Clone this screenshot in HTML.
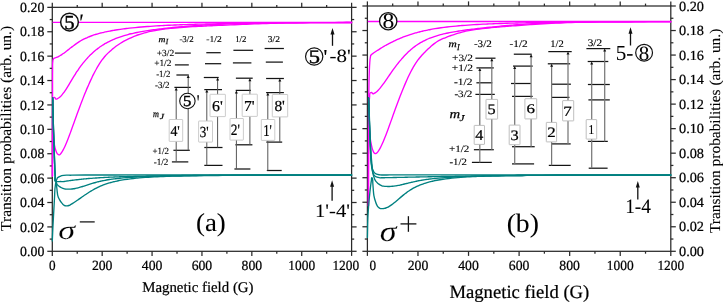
<!DOCTYPE html>
<html><head><meta charset="utf-8"><title>Transition probabilities</title>
<style>
html,body{margin:0;padding:0;background:#fff;}
body{width:723px;height:302px;overflow:hidden;}
svg{display:block;text-rendering:geometricPrecision;}
text{font-family:'Liberation Serif', 'Times New Roman', serif;fill:#000;stroke:#000;stroke-width:0.22px;}
text.s{stroke-width:0.12px;fill:#000;}
text.n{stroke:#fff;stroke-width:0.12px;fill:#000;}
text.n2{stroke-width:0;fill:#000;}
text.m{stroke-width:0.25px;fill:#000;}
text.lab{stroke-width:0.1px;}
text.lg{stroke-width:0.06px;}
text.b{stroke-width:0.45px;}
</style></head>
<body>
<svg width="723" height="302" viewBox="0 0 723 302">
<rect width="723" height="302" fill="#fff"/>
<rect x="52.30" y="7.35" width="299.30" height="243.95" fill="none" stroke="#2a2a2a" stroke-width="1.25"/>
<line x1="52.30" y1="251.30" x2="52.30" y2="255.90" stroke="#2a2a2a" stroke-width="1.25"/>
<line x1="52.30" y1="7.35" x2="52.30" y2="2.75" stroke="#2a2a2a" stroke-width="1.25"/>
<line x1="77.24" y1="251.30" x2="77.24" y2="253.70" stroke="#2a2a2a" stroke-width="1.25"/>
<line x1="77.24" y1="7.35" x2="77.24" y2="4.95" stroke="#2a2a2a" stroke-width="1.25"/>
<line x1="102.18" y1="251.30" x2="102.18" y2="255.90" stroke="#2a2a2a" stroke-width="1.25"/>
<line x1="102.18" y1="7.35" x2="102.18" y2="2.75" stroke="#2a2a2a" stroke-width="1.25"/>
<line x1="127.12" y1="251.30" x2="127.12" y2="253.70" stroke="#2a2a2a" stroke-width="1.25"/>
<line x1="127.12" y1="7.35" x2="127.12" y2="4.95" stroke="#2a2a2a" stroke-width="1.25"/>
<line x1="152.07" y1="251.30" x2="152.07" y2="255.90" stroke="#2a2a2a" stroke-width="1.25"/>
<line x1="152.07" y1="7.35" x2="152.07" y2="2.75" stroke="#2a2a2a" stroke-width="1.25"/>
<line x1="177.01" y1="251.30" x2="177.01" y2="253.70" stroke="#2a2a2a" stroke-width="1.25"/>
<line x1="177.01" y1="7.35" x2="177.01" y2="4.95" stroke="#2a2a2a" stroke-width="1.25"/>
<line x1="201.95" y1="251.30" x2="201.95" y2="255.90" stroke="#2a2a2a" stroke-width="1.25"/>
<line x1="201.95" y1="7.35" x2="201.95" y2="2.75" stroke="#2a2a2a" stroke-width="1.25"/>
<line x1="226.89" y1="251.30" x2="226.89" y2="253.70" stroke="#2a2a2a" stroke-width="1.25"/>
<line x1="226.89" y1="7.35" x2="226.89" y2="4.95" stroke="#2a2a2a" stroke-width="1.25"/>
<line x1="251.83" y1="251.30" x2="251.83" y2="255.90" stroke="#2a2a2a" stroke-width="1.25"/>
<line x1="251.83" y1="7.35" x2="251.83" y2="2.75" stroke="#2a2a2a" stroke-width="1.25"/>
<line x1="276.78" y1="251.30" x2="276.78" y2="253.70" stroke="#2a2a2a" stroke-width="1.25"/>
<line x1="276.78" y1="7.35" x2="276.78" y2="4.95" stroke="#2a2a2a" stroke-width="1.25"/>
<line x1="301.72" y1="251.30" x2="301.72" y2="255.90" stroke="#2a2a2a" stroke-width="1.25"/>
<line x1="301.72" y1="7.35" x2="301.72" y2="2.75" stroke="#2a2a2a" stroke-width="1.25"/>
<line x1="326.66" y1="251.30" x2="326.66" y2="253.70" stroke="#2a2a2a" stroke-width="1.25"/>
<line x1="326.66" y1="7.35" x2="326.66" y2="4.95" stroke="#2a2a2a" stroke-width="1.25"/>
<line x1="351.60" y1="251.30" x2="351.60" y2="255.90" stroke="#2a2a2a" stroke-width="1.25"/>
<line x1="351.60" y1="7.35" x2="351.60" y2="2.75" stroke="#2a2a2a" stroke-width="1.25"/>
<line x1="52.30" y1="251.30" x2="47.30" y2="251.30" stroke="#2a2a2a" stroke-width="1.25"/>
<line x1="351.60" y1="251.30" x2="356.60" y2="251.30" stroke="#2a2a2a" stroke-width="1.25"/>
<line x1="52.30" y1="239.10" x2="49.70" y2="239.10" stroke="#2a2a2a" stroke-width="1.25"/>
<line x1="351.60" y1="239.10" x2="354.20" y2="239.10" stroke="#2a2a2a" stroke-width="1.25"/>
<line x1="52.30" y1="226.91" x2="47.30" y2="226.91" stroke="#2a2a2a" stroke-width="1.25"/>
<line x1="351.60" y1="226.91" x2="356.60" y2="226.91" stroke="#2a2a2a" stroke-width="1.25"/>
<line x1="52.30" y1="214.71" x2="49.70" y2="214.71" stroke="#2a2a2a" stroke-width="1.25"/>
<line x1="351.60" y1="214.71" x2="354.20" y2="214.71" stroke="#2a2a2a" stroke-width="1.25"/>
<line x1="52.30" y1="202.51" x2="47.30" y2="202.51" stroke="#2a2a2a" stroke-width="1.25"/>
<line x1="351.60" y1="202.51" x2="356.60" y2="202.51" stroke="#2a2a2a" stroke-width="1.25"/>
<line x1="52.30" y1="190.31" x2="49.70" y2="190.31" stroke="#2a2a2a" stroke-width="1.25"/>
<line x1="351.60" y1="190.31" x2="354.20" y2="190.31" stroke="#2a2a2a" stroke-width="1.25"/>
<line x1="52.30" y1="178.12" x2="47.30" y2="178.12" stroke="#2a2a2a" stroke-width="1.25"/>
<line x1="351.60" y1="178.12" x2="356.60" y2="178.12" stroke="#2a2a2a" stroke-width="1.25"/>
<line x1="52.30" y1="165.92" x2="49.70" y2="165.92" stroke="#2a2a2a" stroke-width="1.25"/>
<line x1="351.60" y1="165.92" x2="354.20" y2="165.92" stroke="#2a2a2a" stroke-width="1.25"/>
<line x1="52.30" y1="153.72" x2="47.30" y2="153.72" stroke="#2a2a2a" stroke-width="1.25"/>
<line x1="351.60" y1="153.72" x2="356.60" y2="153.72" stroke="#2a2a2a" stroke-width="1.25"/>
<line x1="52.30" y1="141.52" x2="49.70" y2="141.52" stroke="#2a2a2a" stroke-width="1.25"/>
<line x1="351.60" y1="141.52" x2="354.20" y2="141.52" stroke="#2a2a2a" stroke-width="1.25"/>
<line x1="52.30" y1="129.33" x2="47.30" y2="129.33" stroke="#2a2a2a" stroke-width="1.25"/>
<line x1="351.60" y1="129.33" x2="356.60" y2="129.33" stroke="#2a2a2a" stroke-width="1.25"/>
<line x1="52.30" y1="117.13" x2="49.70" y2="117.13" stroke="#2a2a2a" stroke-width="1.25"/>
<line x1="351.60" y1="117.13" x2="354.20" y2="117.13" stroke="#2a2a2a" stroke-width="1.25"/>
<line x1="52.30" y1="104.93" x2="47.30" y2="104.93" stroke="#2a2a2a" stroke-width="1.25"/>
<line x1="351.60" y1="104.93" x2="356.60" y2="104.93" stroke="#2a2a2a" stroke-width="1.25"/>
<line x1="52.30" y1="92.73" x2="49.70" y2="92.73" stroke="#2a2a2a" stroke-width="1.25"/>
<line x1="351.60" y1="92.73" x2="354.20" y2="92.73" stroke="#2a2a2a" stroke-width="1.25"/>
<line x1="52.30" y1="80.53" x2="47.30" y2="80.53" stroke="#2a2a2a" stroke-width="1.25"/>
<line x1="351.60" y1="80.53" x2="356.60" y2="80.53" stroke="#2a2a2a" stroke-width="1.25"/>
<line x1="52.30" y1="68.34" x2="49.70" y2="68.34" stroke="#2a2a2a" stroke-width="1.25"/>
<line x1="351.60" y1="68.34" x2="354.20" y2="68.34" stroke="#2a2a2a" stroke-width="1.25"/>
<line x1="52.30" y1="56.14" x2="47.30" y2="56.14" stroke="#2a2a2a" stroke-width="1.25"/>
<line x1="351.60" y1="56.14" x2="356.60" y2="56.14" stroke="#2a2a2a" stroke-width="1.25"/>
<line x1="52.30" y1="43.94" x2="49.70" y2="43.94" stroke="#2a2a2a" stroke-width="1.25"/>
<line x1="351.60" y1="43.94" x2="354.20" y2="43.94" stroke="#2a2a2a" stroke-width="1.25"/>
<line x1="52.30" y1="31.75" x2="47.30" y2="31.75" stroke="#2a2a2a" stroke-width="1.25"/>
<line x1="351.60" y1="31.75" x2="356.60" y2="31.75" stroke="#2a2a2a" stroke-width="1.25"/>
<line x1="52.30" y1="19.55" x2="49.70" y2="19.55" stroke="#2a2a2a" stroke-width="1.25"/>
<line x1="351.60" y1="19.55" x2="354.20" y2="19.55" stroke="#2a2a2a" stroke-width="1.25"/>
<line x1="52.30" y1="7.35" x2="47.30" y2="7.35" stroke="#2a2a2a" stroke-width="1.25"/>
<line x1="351.60" y1="7.35" x2="356.60" y2="7.35" stroke="#2a2a2a" stroke-width="1.25"/>
<rect x="367.40" y="6.00" width="303.40" height="245.30" fill="none" stroke="#2a2a2a" stroke-width="1.25"/>
<line x1="367.40" y1="251.30" x2="367.40" y2="255.90" stroke="#2a2a2a" stroke-width="1.25"/>
<line x1="367.40" y1="6.00" x2="367.40" y2="1.40" stroke="#2a2a2a" stroke-width="1.25"/>
<line x1="392.68" y1="251.30" x2="392.68" y2="253.70" stroke="#2a2a2a" stroke-width="1.25"/>
<line x1="392.68" y1="6.00" x2="392.68" y2="3.60" stroke="#2a2a2a" stroke-width="1.25"/>
<line x1="417.97" y1="251.30" x2="417.97" y2="255.90" stroke="#2a2a2a" stroke-width="1.25"/>
<line x1="417.97" y1="6.00" x2="417.97" y2="1.40" stroke="#2a2a2a" stroke-width="1.25"/>
<line x1="443.25" y1="251.30" x2="443.25" y2="253.70" stroke="#2a2a2a" stroke-width="1.25"/>
<line x1="443.25" y1="6.00" x2="443.25" y2="3.60" stroke="#2a2a2a" stroke-width="1.25"/>
<line x1="468.53" y1="251.30" x2="468.53" y2="255.90" stroke="#2a2a2a" stroke-width="1.25"/>
<line x1="468.53" y1="6.00" x2="468.53" y2="1.40" stroke="#2a2a2a" stroke-width="1.25"/>
<line x1="493.82" y1="251.30" x2="493.82" y2="253.70" stroke="#2a2a2a" stroke-width="1.25"/>
<line x1="493.82" y1="6.00" x2="493.82" y2="3.60" stroke="#2a2a2a" stroke-width="1.25"/>
<line x1="519.10" y1="251.30" x2="519.10" y2="255.90" stroke="#2a2a2a" stroke-width="1.25"/>
<line x1="519.10" y1="6.00" x2="519.10" y2="1.40" stroke="#2a2a2a" stroke-width="1.25"/>
<line x1="544.38" y1="251.30" x2="544.38" y2="253.70" stroke="#2a2a2a" stroke-width="1.25"/>
<line x1="544.38" y1="6.00" x2="544.38" y2="3.60" stroke="#2a2a2a" stroke-width="1.25"/>
<line x1="569.67" y1="251.30" x2="569.67" y2="255.90" stroke="#2a2a2a" stroke-width="1.25"/>
<line x1="569.67" y1="6.00" x2="569.67" y2="1.40" stroke="#2a2a2a" stroke-width="1.25"/>
<line x1="594.95" y1="251.30" x2="594.95" y2="253.70" stroke="#2a2a2a" stroke-width="1.25"/>
<line x1="594.95" y1="6.00" x2="594.95" y2="3.60" stroke="#2a2a2a" stroke-width="1.25"/>
<line x1="620.23" y1="251.30" x2="620.23" y2="255.90" stroke="#2a2a2a" stroke-width="1.25"/>
<line x1="620.23" y1="6.00" x2="620.23" y2="1.40" stroke="#2a2a2a" stroke-width="1.25"/>
<line x1="645.52" y1="251.30" x2="645.52" y2="253.70" stroke="#2a2a2a" stroke-width="1.25"/>
<line x1="645.52" y1="6.00" x2="645.52" y2="3.60" stroke="#2a2a2a" stroke-width="1.25"/>
<line x1="670.80" y1="251.30" x2="670.80" y2="255.90" stroke="#2a2a2a" stroke-width="1.25"/>
<line x1="670.80" y1="6.00" x2="670.80" y2="1.40" stroke="#2a2a2a" stroke-width="1.25"/>
<line x1="367.40" y1="251.30" x2="362.40" y2="251.30" stroke="#2a2a2a" stroke-width="1.25"/>
<line x1="670.80" y1="251.30" x2="675.80" y2="251.30" stroke="#2a2a2a" stroke-width="1.25"/>
<line x1="367.40" y1="239.04" x2="364.80" y2="239.04" stroke="#2a2a2a" stroke-width="1.25"/>
<line x1="670.80" y1="239.04" x2="673.40" y2="239.04" stroke="#2a2a2a" stroke-width="1.25"/>
<line x1="367.40" y1="226.77" x2="362.40" y2="226.77" stroke="#2a2a2a" stroke-width="1.25"/>
<line x1="670.80" y1="226.77" x2="675.80" y2="226.77" stroke="#2a2a2a" stroke-width="1.25"/>
<line x1="367.40" y1="214.50" x2="364.80" y2="214.50" stroke="#2a2a2a" stroke-width="1.25"/>
<line x1="670.80" y1="214.50" x2="673.40" y2="214.50" stroke="#2a2a2a" stroke-width="1.25"/>
<line x1="367.40" y1="202.24" x2="362.40" y2="202.24" stroke="#2a2a2a" stroke-width="1.25"/>
<line x1="670.80" y1="202.24" x2="675.80" y2="202.24" stroke="#2a2a2a" stroke-width="1.25"/>
<line x1="367.40" y1="189.98" x2="364.80" y2="189.98" stroke="#2a2a2a" stroke-width="1.25"/>
<line x1="670.80" y1="189.98" x2="673.40" y2="189.98" stroke="#2a2a2a" stroke-width="1.25"/>
<line x1="367.40" y1="177.71" x2="362.40" y2="177.71" stroke="#2a2a2a" stroke-width="1.25"/>
<line x1="670.80" y1="177.71" x2="675.80" y2="177.71" stroke="#2a2a2a" stroke-width="1.25"/>
<line x1="367.40" y1="165.44" x2="364.80" y2="165.44" stroke="#2a2a2a" stroke-width="1.25"/>
<line x1="670.80" y1="165.44" x2="673.40" y2="165.44" stroke="#2a2a2a" stroke-width="1.25"/>
<line x1="367.40" y1="153.18" x2="362.40" y2="153.18" stroke="#2a2a2a" stroke-width="1.25"/>
<line x1="670.80" y1="153.18" x2="675.80" y2="153.18" stroke="#2a2a2a" stroke-width="1.25"/>
<line x1="367.40" y1="140.91" x2="364.80" y2="140.91" stroke="#2a2a2a" stroke-width="1.25"/>
<line x1="670.80" y1="140.91" x2="673.40" y2="140.91" stroke="#2a2a2a" stroke-width="1.25"/>
<line x1="367.40" y1="128.65" x2="362.40" y2="128.65" stroke="#2a2a2a" stroke-width="1.25"/>
<line x1="670.80" y1="128.65" x2="675.80" y2="128.65" stroke="#2a2a2a" stroke-width="1.25"/>
<line x1="367.40" y1="116.38" x2="364.80" y2="116.38" stroke="#2a2a2a" stroke-width="1.25"/>
<line x1="670.80" y1="116.38" x2="673.40" y2="116.38" stroke="#2a2a2a" stroke-width="1.25"/>
<line x1="367.40" y1="104.12" x2="362.40" y2="104.12" stroke="#2a2a2a" stroke-width="1.25"/>
<line x1="670.80" y1="104.12" x2="675.80" y2="104.12" stroke="#2a2a2a" stroke-width="1.25"/>
<line x1="367.40" y1="91.86" x2="364.80" y2="91.86" stroke="#2a2a2a" stroke-width="1.25"/>
<line x1="670.80" y1="91.86" x2="673.40" y2="91.86" stroke="#2a2a2a" stroke-width="1.25"/>
<line x1="367.40" y1="79.59" x2="362.40" y2="79.59" stroke="#2a2a2a" stroke-width="1.25"/>
<line x1="670.80" y1="79.59" x2="675.80" y2="79.59" stroke="#2a2a2a" stroke-width="1.25"/>
<line x1="367.40" y1="67.33" x2="364.80" y2="67.33" stroke="#2a2a2a" stroke-width="1.25"/>
<line x1="670.80" y1="67.33" x2="673.40" y2="67.33" stroke="#2a2a2a" stroke-width="1.25"/>
<line x1="367.40" y1="55.06" x2="362.40" y2="55.06" stroke="#2a2a2a" stroke-width="1.25"/>
<line x1="670.80" y1="55.06" x2="675.80" y2="55.06" stroke="#2a2a2a" stroke-width="1.25"/>
<line x1="367.40" y1="42.79" x2="364.80" y2="42.79" stroke="#2a2a2a" stroke-width="1.25"/>
<line x1="670.80" y1="42.79" x2="673.40" y2="42.79" stroke="#2a2a2a" stroke-width="1.25"/>
<line x1="367.40" y1="30.53" x2="362.40" y2="30.53" stroke="#2a2a2a" stroke-width="1.25"/>
<line x1="670.80" y1="30.53" x2="675.80" y2="30.53" stroke="#2a2a2a" stroke-width="1.25"/>
<line x1="367.40" y1="18.27" x2="364.80" y2="18.27" stroke="#2a2a2a" stroke-width="1.25"/>
<line x1="670.80" y1="18.27" x2="673.40" y2="18.27" stroke="#2a2a2a" stroke-width="1.25"/>
<line x1="367.40" y1="6.00" x2="362.40" y2="6.00" stroke="#2a2a2a" stroke-width="1.25"/>
<line x1="670.80" y1="6.00" x2="675.80" y2="6.00" stroke="#2a2a2a" stroke-width="1.25"/>
<text x="44.30" y="256.00" font-size="14.00" text-anchor="end" style="" textLength="24.20" lengthAdjust="spacingAndGlyphs">0.00</text>
<text x="44.30" y="231.60" font-size="14.00" text-anchor="end" style="" textLength="24.20" lengthAdjust="spacingAndGlyphs">0.02</text>
<text x="44.30" y="207.21" font-size="14.00" text-anchor="end" style="" textLength="24.20" lengthAdjust="spacingAndGlyphs">0.04</text>
<text x="44.30" y="182.81" font-size="14.00" text-anchor="end" style="" textLength="24.20" lengthAdjust="spacingAndGlyphs">0.06</text>
<text x="44.30" y="158.42" font-size="14.00" text-anchor="end" style="" textLength="24.20" lengthAdjust="spacingAndGlyphs">0.08</text>
<text x="44.30" y="134.03" font-size="14.00" text-anchor="end" style="" textLength="24.20" lengthAdjust="spacingAndGlyphs">0.10</text>
<text x="44.30" y="109.63" font-size="14.00" text-anchor="end" style="" textLength="24.20" lengthAdjust="spacingAndGlyphs">0.12</text>
<text x="44.30" y="85.23" font-size="14.00" text-anchor="end" style="" textLength="24.20" lengthAdjust="spacingAndGlyphs">0.14</text>
<text x="44.30" y="60.84" font-size="14.00" text-anchor="end" style="" textLength="24.20" lengthAdjust="spacingAndGlyphs">0.16</text>
<text x="44.30" y="36.45" font-size="14.00" text-anchor="end" style="" textLength="24.20" lengthAdjust="spacingAndGlyphs">0.18</text>
<text x="44.30" y="12.05" font-size="14.00" text-anchor="end" style="" textLength="24.20" lengthAdjust="spacingAndGlyphs">0.20</text>
<text x="679.00" y="256.00" font-size="14.00" text-anchor="start" style="" textLength="25.00" lengthAdjust="spacingAndGlyphs">0.00</text>
<text x="679.00" y="231.47" font-size="14.00" text-anchor="start" style="" textLength="25.00" lengthAdjust="spacingAndGlyphs">0.02</text>
<text x="679.00" y="206.94" font-size="14.00" text-anchor="start" style="" textLength="25.00" lengthAdjust="spacingAndGlyphs">0.04</text>
<text x="679.00" y="182.41" font-size="14.00" text-anchor="start" style="" textLength="25.00" lengthAdjust="spacingAndGlyphs">0.06</text>
<text x="679.00" y="157.88" font-size="14.00" text-anchor="start" style="" textLength="25.00" lengthAdjust="spacingAndGlyphs">0.08</text>
<text x="679.00" y="133.35" font-size="14.00" text-anchor="start" style="" textLength="25.00" lengthAdjust="spacingAndGlyphs">0.10</text>
<text x="679.00" y="108.82" font-size="14.00" text-anchor="start" style="" textLength="25.00" lengthAdjust="spacingAndGlyphs">0.12</text>
<text x="679.00" y="84.29" font-size="14.00" text-anchor="start" style="" textLength="25.00" lengthAdjust="spacingAndGlyphs">0.14</text>
<text x="679.00" y="59.76" font-size="14.00" text-anchor="start" style="" textLength="25.00" lengthAdjust="spacingAndGlyphs">0.16</text>
<text x="679.00" y="35.23" font-size="14.00" text-anchor="start" style="" textLength="25.00" lengthAdjust="spacingAndGlyphs">0.18</text>
<text x="679.00" y="10.70" font-size="14.00" text-anchor="start" style="" textLength="25.00" lengthAdjust="spacingAndGlyphs">0.20</text>
<text x="52.30" y="269.60" font-size="14.00" text-anchor="middle" style="" textLength="6.60" lengthAdjust="spacingAndGlyphs">0</text>
<text x="102.18" y="269.60" font-size="14.00" text-anchor="middle" style="" textLength="20.60" lengthAdjust="spacingAndGlyphs">200</text>
<text x="152.07" y="269.60" font-size="14.00" text-anchor="middle" style="" textLength="20.60" lengthAdjust="spacingAndGlyphs">400</text>
<text x="201.95" y="269.60" font-size="14.00" text-anchor="middle" style="" textLength="20.60" lengthAdjust="spacingAndGlyphs">600</text>
<text x="251.83" y="269.60" font-size="14.00" text-anchor="middle" style="" textLength="20.60" lengthAdjust="spacingAndGlyphs">800</text>
<text x="301.72" y="269.60" font-size="14.00" text-anchor="middle" style="" textLength="26.80" lengthAdjust="spacingAndGlyphs">1000</text>
<text x="345.80" y="269.60" font-size="14.00" text-anchor="middle" style="" textLength="26.80" lengthAdjust="spacingAndGlyphs">1200</text>
<text x="372.70" y="270.40" font-size="14.00" text-anchor="middle" style="" textLength="6.60" lengthAdjust="spacingAndGlyphs">0</text>
<text x="417.97" y="270.40" font-size="14.00" text-anchor="middle" style="" textLength="20.60" lengthAdjust="spacingAndGlyphs">200</text>
<text x="468.53" y="270.40" font-size="14.00" text-anchor="middle" style="" textLength="20.60" lengthAdjust="spacingAndGlyphs">400</text>
<text x="519.10" y="270.40" font-size="14.00" text-anchor="middle" style="" textLength="20.60" lengthAdjust="spacingAndGlyphs">600</text>
<text x="569.67" y="270.40" font-size="14.00" text-anchor="middle" style="" textLength="20.60" lengthAdjust="spacingAndGlyphs">800</text>
<text x="620.23" y="270.40" font-size="14.00" text-anchor="middle" style="" textLength="26.80" lengthAdjust="spacingAndGlyphs">1000</text>
<text x="670.80" y="270.40" font-size="14.00" text-anchor="middle" style="" textLength="26.80" lengthAdjust="spacingAndGlyphs">1200</text>
<text x="142.20" y="292.10" font-size="14.80" text-anchor="start" style="" textLength="111.30" lengthAdjust="spacingAndGlyphs">Magnetic field (G)</text>
<text x="449.40" y="297.80" font-size="18.70" text-anchor="start" style="" textLength="139.90" lengthAdjust="spacingAndGlyphs">Magnetic field (G)</text>
<text class="lab" transform="translate(10.9,230.9) rotate(-90)" font-size="15.2" textLength="205.0" lengthAdjust="spacingAndGlyphs">Transition probabilities (arb. un.)</text>
<text class="lab" transform="translate(720.0,233.0) rotate(-90)" font-size="15.1" textLength="204.3" lengthAdjust="spacingAndGlyphs">Transition probabilities (arb. un.)</text>
<line x1="52.60" y1="22.40" x2="351.60" y2="22.40" stroke="#ff00ff" stroke-width="1.35"/>
<path d="M52.45,176.00 C52.46,167.33 52.46,158.67 52.47,150.00 C52.48,140.00 52.49,130.00 52.50,120.00 C52.51,110.00 52.53,100.00 52.55,90.00 C52.56,83.33 52.51,76.67 52.60,70.00 C52.64,67.33 52.41,64.65 52.75,62.00 C52.87,61.10 52.72,60.08 53.20,59.30 C53.48,58.85 53.85,58.43 54.30,58.16 C54.75,57.89 55.31,57.90 55.80,57.73 C56.31,57.56 56.81,57.35 57.30,57.13 C57.81,56.91 58.31,56.66 58.80,56.40 C59.31,56.12 59.81,55.83 60.30,55.54 C60.81,55.23 61.31,54.90 61.80,54.57 C62.31,54.24 62.80,53.89 63.30,53.53 C63.80,53.17 64.30,52.80 64.80,52.43 C65.30,52.06 65.80,51.67 66.30,51.29 C66.80,50.90 67.30,50.51 67.80,50.12 C68.30,49.73 68.80,49.34 69.30,48.95 C69.80,48.56 70.30,48.16 70.80,47.78 C71.30,47.39 71.80,47.00 72.30,46.62 C72.80,46.24 73.30,45.87 73.80,45.50 C74.30,45.13 74.80,44.77 75.30,44.41 C75.80,44.05 76.30,43.70 76.80,43.36 C77.30,43.02 77.80,42.69 78.30,42.36 C78.80,42.04 79.30,41.73 79.80,41.42 C80.30,41.12 80.80,40.82 81.30,40.53 C81.80,40.25 82.30,39.97 82.80,39.70 C83.30,39.44 83.80,39.18 84.30,38.93 C84.80,38.68 85.30,38.44 85.80,38.20 C86.30,37.97 86.80,37.75 87.30,37.53 C87.80,37.31 88.30,37.10 88.80,36.90 C89.30,36.69 89.80,36.50 90.30,36.30 C90.80,36.11 91.30,35.93 91.80,35.75 C92.30,35.57 92.80,35.39 93.30,35.22 C93.80,35.05 94.30,34.89 94.80,34.73 C95.30,34.57 95.80,34.42 96.30,34.27 C96.80,34.12 97.30,33.97 97.80,33.83 C98.30,33.69 98.80,33.55 99.30,33.41 C99.80,33.28 100.30,33.15 100.80,33.02 C101.30,32.89 101.80,32.77 102.30,32.65 C102.80,32.53 103.30,32.41 103.80,32.30 C104.30,32.18 104.80,32.07 105.30,31.96 C105.80,31.85 106.30,31.75 106.80,31.64 C107.30,31.54 107.80,31.44 108.30,31.34 C108.80,31.24 109.30,31.14 109.80,31.05 C110.30,30.95 110.80,30.86 111.30,30.77 C111.80,30.68 112.30,30.59 112.80,30.51 C113.30,30.42 113.80,30.34 114.30,30.25 C115.30,30.09 116.30,29.93 117.30,29.77 C118.30,29.62 119.30,29.47 120.30,29.33 C121.30,29.19 122.30,29.05 123.30,28.92 C124.30,28.79 125.30,28.67 126.30,28.54 C127.30,28.42 128.30,28.31 129.30,28.19 C130.30,28.08 131.30,27.97 132.30,27.87 C133.30,27.76 134.30,27.66 135.30,27.56 C136.30,27.46 137.30,27.37 138.30,27.28 C139.30,27.19 140.30,27.10 141.30,27.02 C142.30,26.93 143.30,26.85 144.30,26.77 C145.30,26.69 146.30,26.61 147.30,26.54 C148.30,26.47 149.30,26.39 150.30,26.33 C151.30,26.26 152.30,26.19 153.30,26.12 C154.30,26.06 155.30,26.00 156.30,25.94 C157.30,25.88 158.30,25.82 159.30,25.76 C160.30,25.70 161.30,25.65 162.30,25.59 C163.30,25.54 164.30,25.49 165.30,25.44 C166.30,25.39 167.30,25.34 168.30,25.29 C169.30,25.24 170.30,25.20 171.30,25.15 C172.30,25.11 173.30,25.06 174.30,25.02 C175.30,24.98 176.30,24.94 177.30,24.90 C178.30,24.86 179.30,24.82 180.30,24.78 C181.30,24.74 182.30,24.71 183.30,24.67 C184.30,24.64 185.30,24.60 186.30,24.57 C187.30,24.53 188.30,24.50 189.30,24.47 C190.30,24.44 191.30,24.41 192.30,24.38 C193.30,24.35 194.30,24.32 195.30,24.29 C196.30,24.26 197.30,24.23 198.30,24.20 C199.30,24.18 200.30,24.15 201.30,24.12 C202.30,24.10 203.30,24.07 204.30,24.05 C205.30,24.02 206.30,24.00 207.30,23.97 C208.30,23.95 209.30,23.93 210.30,23.90 C211.30,23.88 212.30,23.86 213.30,23.84 C213.63,23.83 213.97,23.82 214.30,23.82 C216.97,23.76 219.63,23.71 222.30,23.66 C224.97,23.61 227.63,23.56 230.30,23.51 C232.97,23.47 235.63,23.43 238.30,23.39 C240.97,23.35 243.63,23.31 246.30,23.27 C248.97,23.24 251.63,23.21 254.30,23.17 C256.97,23.14 259.63,23.11 262.30,23.08 C264.97,23.05 267.63,23.03 270.30,23.00 C272.97,22.97 275.63,22.95 278.30,22.92 C280.97,22.90 283.63,22.88 286.30,22.86 C288.97,22.84 291.63,22.82 294.30,22.80 C296.97,22.78 299.63,22.76 302.30,22.74 C304.97,22.73 307.63,22.71 310.30,22.69 C312.97,22.68 315.63,22.67 318.30,22.65 C320.97,22.64 323.63,22.63 326.30,22.61 C328.97,22.60 331.63,22.59 334.30,22.58 C336.97,22.57 339.63,22.56 342.30,22.55 C344.97,22.54 347.63,22.53 350.30,22.52 C350.73,22.52 351.17,22.52 351.60,22.52" fill="none" stroke="#ff00ff" stroke-width="1.35" stroke-linejoin="round" stroke-linecap="round"/>
<path d="M52.45,176.00 C52.47,167.33 52.48,158.67 52.50,150.00 C52.52,141.67 52.51,133.33 52.55,125.00 C52.57,119.33 52.53,113.67 52.65,108.00 C52.70,105.67 52.61,103.32 52.85,101.00 C52.96,99.93 52.42,98.42 53.30,97.80 C53.65,97.56 54.08,97.37 54.50,97.40 C55.27,97.46 55.24,99.04 56.00,99.16 C56.52,99.24 57.02,98.90 57.50,98.69 C58.03,98.45 58.53,98.12 59.00,97.78 C59.54,97.39 60.02,96.94 60.50,96.48 C61.03,95.97 61.52,95.41 62.00,94.85 C62.53,94.24 63.02,93.59 63.50,92.94 C64.02,92.25 64.51,91.54 65.00,90.82 C65.51,90.07 66.01,89.30 66.50,88.53 C67.01,87.74 67.50,86.94 68.00,86.14 C68.51,85.32 69.00,84.49 69.50,83.67 C70.00,82.84 70.50,82.01 71.00,81.18 C71.50,80.35 72.00,79.51 72.50,78.68 C73.00,77.86 73.50,77.04 74.00,76.22 C74.50,75.42 74.99,74.62 75.50,73.82 C75.99,73.04 76.49,72.26 77.00,71.49 C77.49,70.74 77.99,70.00 78.50,69.26 C78.99,68.54 79.49,67.83 80.00,67.13 C80.49,66.44 80.99,65.77 81.50,65.10 C81.99,64.45 82.49,63.80 83.00,63.17 C83.49,62.55 83.99,61.94 84.50,61.33 C84.99,60.74 85.49,60.16 86.00,59.58 C86.49,59.02 86.99,58.47 87.50,57.92 C87.99,57.39 88.49,56.87 89.00,56.35 C89.49,55.84 89.99,55.34 90.50,54.85 C90.99,54.36 91.49,53.89 92.00,53.42 C92.49,52.96 92.99,52.51 93.50,52.07 C93.99,51.63 94.49,51.21 95.00,50.78 C95.49,50.37 95.99,49.96 96.50,49.56 C97.00,49.17 97.50,48.79 98.00,48.41 C98.50,48.03 99.00,47.67 99.50,47.31 C100.00,46.95 100.50,46.61 101.00,46.27 C101.50,45.93 102.00,45.60 102.50,45.28 C103.00,44.96 103.50,44.65 104.00,44.34 C104.50,44.04 105.00,43.74 105.50,43.45 C106.00,43.16 106.50,42.88 107.00,42.61 C107.50,42.34 108.00,42.07 108.50,41.81 C109.00,41.55 109.50,41.30 110.00,41.05 C110.50,40.81 111.00,40.57 111.50,40.34 C112.00,40.10 112.50,39.88 113.00,39.66 C113.50,39.44 114.00,39.22 114.50,39.01 C115.00,38.81 115.50,38.60 116.00,38.40 C116.99,38.01 117.99,37.64 119.00,37.28 C119.99,36.93 121.00,36.59 122.00,36.27 C123.00,35.95 124.00,35.65 125.00,35.36 C126.00,35.07 127.00,34.80 128.00,34.53 C129.00,34.27 130.00,34.02 131.00,33.78 C132.00,33.54 133.00,33.32 134.00,33.10 C135.00,32.88 136.00,32.67 137.00,32.47 C138.00,32.27 139.00,32.07 140.00,31.89 C141.00,31.70 142.00,31.52 143.00,31.35 C144.00,31.18 145.00,31.02 146.00,30.86 C147.00,30.70 148.00,30.54 149.00,30.39 C150.00,30.24 151.00,30.10 152.00,29.96 C153.00,29.82 154.00,29.69 155.00,29.55 C156.00,29.42 157.00,29.30 158.00,29.17 C159.00,29.05 160.00,28.93 161.00,28.81 C162.00,28.69 163.00,28.58 164.00,28.47 C165.00,28.36 166.00,28.25 167.00,28.14 C168.00,28.04 169.00,27.93 170.00,27.83 C171.00,27.73 172.00,27.63 173.00,27.54 C174.00,27.44 175.00,27.34 176.00,27.25 C177.00,27.16 178.00,27.07 179.00,26.98 C180.00,26.89 181.00,26.80 182.00,26.71 C183.00,26.63 184.00,26.54 185.00,26.46 C186.00,26.38 187.00,26.30 188.00,26.22 C189.00,26.14 190.00,26.06 191.00,25.98 C192.00,25.90 193.00,25.83 194.00,25.76 C195.00,25.68 196.00,25.61 197.00,25.54 C198.00,25.47 199.00,25.40 200.00,25.34 C201.00,25.27 202.00,25.21 203.00,25.14 C204.00,25.08 205.00,25.02 206.00,24.96 C207.00,24.90 208.00,24.84 209.00,24.79 C210.00,24.73 211.00,24.68 212.00,24.62 C213.00,24.57 214.00,24.52 215.00,24.47 C215.33,24.45 215.67,24.44 216.00,24.42 C218.67,24.29 221.33,24.17 224.00,24.06 C226.67,23.96 229.33,23.86 232.00,23.77 C234.67,23.68 237.33,23.59 240.00,23.52 C242.67,23.45 245.33,23.38 248.00,23.32 C250.67,23.26 253.33,23.20 256.00,23.15 C258.67,23.11 261.33,23.06 264.00,23.02 C266.67,22.98 269.33,22.95 272.00,22.92 C274.67,22.88 277.33,22.86 280.00,22.83 C282.67,22.80 285.33,22.78 288.00,22.76 C290.67,22.74 293.33,22.72 296.00,22.71 C298.67,22.69 301.33,22.68 304.00,22.66 C306.67,22.65 309.33,22.64 312.00,22.63 C314.67,22.62 317.33,22.61 320.00,22.60 C322.67,22.59 325.33,22.59 328.00,22.58 C330.67,22.57 333.33,22.57 336.00,22.56 C338.67,22.56 341.33,22.55 344.00,22.55 C346.53,22.55 349.07,22.55 351.60,22.54" fill="none" stroke="#ff00ff" stroke-width="1.35" stroke-linejoin="round" stroke-linecap="round"/>
<path d="M52.60,100.00 C52.80,108.33 52.88,116.67 53.20,125.00 C53.37,129.33 53.46,133.68 53.80,138.00 C53.99,140.43 54.05,142.88 54.50,145.27 C54.86,147.19 55.27,149.12 56.00,150.92 C56.43,151.98 56.64,153.25 57.50,154.00 C57.93,154.37 58.43,154.85 59.00,154.84 C59.58,154.84 60.05,154.34 60.50,153.96 C61.15,153.43 61.54,152.64 62.00,151.94 C62.56,151.09 63.03,150.18 63.50,149.28 C64.03,148.27 64.52,147.23 65.00,146.20 C65.52,145.06 66.02,143.91 66.50,142.76 C67.02,141.52 67.51,140.28 68.00,139.03 C68.51,137.73 69.01,136.42 69.50,135.10 C70.01,133.74 70.50,132.38 71.00,131.02 C71.50,129.63 72.00,128.24 72.50,126.85 C73.00,125.46 73.50,124.06 74.00,122.66 C74.50,121.26 75.00,119.87 75.50,118.47 C76.00,117.09 76.50,115.71 77.00,114.33 C77.50,112.96 78.00,111.59 78.50,110.23 C79.00,108.88 79.50,107.54 80.00,106.19 C80.50,104.87 80.99,103.55 81.50,102.23 C82.00,100.94 82.49,99.65 83.00,98.37 C83.49,97.11 83.99,95.85 84.50,94.59 C84.99,93.37 85.49,92.15 86.00,90.93 C86.49,89.74 86.99,88.56 87.50,87.38 C87.99,86.23 88.49,85.08 89.00,83.94 C89.49,82.83 89.99,81.73 90.50,80.63 C90.99,79.57 91.49,78.51 92.00,77.45 C92.49,76.44 92.99,75.42 93.50,74.42 C93.99,73.44 94.49,72.48 95.00,71.52 C95.49,70.59 95.99,69.67 96.50,68.76 C96.99,67.88 97.49,67.01 98.00,66.15 C98.49,65.33 98.99,64.51 99.50,63.70 C99.99,62.94 100.48,62.18 101.00,61.44 C101.49,60.74 101.98,60.04 102.50,59.36 C102.99,58.72 103.49,58.09 104.00,57.47 C104.49,56.88 104.99,56.30 105.50,55.73 C105.99,55.18 106.49,54.65 107.00,54.12 C107.49,53.61 107.99,53.11 108.50,52.62 C108.99,52.15 109.49,51.68 110.00,51.22 C110.49,50.77 110.99,50.33 111.50,49.90 C111.99,49.47 112.49,49.05 113.00,48.64 C113.50,48.24 114.00,47.84 114.50,47.45 C115.48,46.69 116.48,45.96 117.50,45.25 C118.48,44.56 119.48,43.89 120.50,43.25 C121.49,42.63 122.49,42.03 123.50,41.45 C124.49,40.89 125.49,40.35 126.50,39.83 C127.49,39.32 128.49,38.83 129.50,38.36 C130.49,37.90 131.49,37.46 132.50,37.03 C133.49,36.62 134.49,36.22 135.50,35.84 C136.49,35.46 137.49,35.10 138.50,34.76 C139.49,34.42 140.50,34.10 141.50,33.79 C142.50,33.49 143.50,33.20 144.50,32.92 C145.50,32.65 146.50,32.39 147.50,32.14 C148.50,31.89 149.50,31.66 150.50,31.44 C151.50,31.22 152.50,31.01 153.50,30.82 C154.50,30.62 155.50,30.43 156.50,30.26 C157.50,30.08 158.50,29.92 159.50,29.76 C160.50,29.60 161.50,29.46 162.50,29.32 C163.50,29.18 164.50,29.05 165.50,28.92 C166.50,28.80 167.50,28.68 168.50,28.57 C169.50,28.46 170.50,28.36 171.50,28.25 C172.50,28.15 173.50,28.06 174.50,27.97 C175.50,27.88 176.50,27.79 177.50,27.71 C178.50,27.62 179.50,27.55 180.50,27.47 C181.50,27.39 182.50,27.32 183.50,27.25 C184.50,27.18 185.50,27.11 186.50,27.05 C187.50,26.98 188.50,26.92 189.50,26.86 C190.50,26.80 191.50,26.74 192.50,26.68 C193.50,26.63 194.50,26.57 195.50,26.52 C196.50,26.46 197.50,26.41 198.50,26.36 C199.50,26.31 200.50,26.26 201.50,26.21 C202.50,26.16 203.50,26.11 204.50,26.06 C205.50,26.01 206.50,25.97 207.50,25.92 C208.50,25.87 209.50,25.83 210.50,25.78 C211.50,25.74 212.50,25.69 213.50,25.65 C213.83,25.63 214.17,25.62 214.50,25.60 C217.17,25.48 219.83,25.37 222.50,25.25 C225.17,25.14 227.83,25.02 230.50,24.91 C233.17,24.79 235.83,24.68 238.50,24.57 C241.17,24.45 243.83,24.34 246.50,24.23 C249.17,24.12 251.83,24.01 254.50,23.90 C257.17,23.80 259.83,23.69 262.50,23.59 C265.17,23.50 267.83,23.41 270.50,23.32 C273.17,23.24 275.83,23.17 278.50,23.10 C281.17,23.04 283.83,22.98 286.50,22.93 C289.17,22.88 291.83,22.84 294.50,22.80 C297.17,22.77 299.83,22.74 302.50,22.71 C305.17,22.68 307.83,22.66 310.50,22.64 C313.17,22.62 315.83,22.61 318.50,22.60 C321.17,22.58 323.83,22.57 326.50,22.57 C329.17,22.56 331.83,22.55 334.50,22.55 C337.17,22.55 339.83,22.54 342.50,22.54 C345.17,22.54 347.83,22.54 350.50,22.55 C350.87,22.55 351.23,22.55 351.60,22.55" fill="none" stroke="#ff00ff" stroke-width="1.35" stroke-linejoin="round" stroke-linecap="round"/>
<path d="M52.70,98.00 C52.97,108.67 53.19,119.33 53.50,130.00 C53.79,140.00 54.10,150.00 54.50,160.00 C54.71,165.33 54.76,170.68 55.20,176.00 C55.34,177.74 54.02,181.67 55.70,181.20 C56.93,180.85 56.61,178.73 57.50,177.80 C58.56,176.69 60.15,176.21 61.60,175.70 C64.75,174.58 68.26,175.32 71.60,175.20 C77.73,174.98 83.87,175.04 90.00,175.00 C98.33,174.94 106.67,174.96 115.00,174.95 C126.67,174.93 138.33,174.91 150.00,174.90 C217.20,174.82 284.40,174.90 351.60,174.90" fill="none" stroke="#008080" stroke-width="1.35" stroke-linejoin="round" stroke-linecap="round"/>
<path d="M52.70,98.00 C52.97,108.67 53.19,119.33 53.50,130.00 C53.79,140.00 54.10,150.00 54.50,160.00 C54.71,165.33 54.77,170.68 55.20,176.00 C55.34,177.77 54.14,180.45 55.70,181.30 C56.38,181.67 57.23,181.56 58.00,181.60 C58.83,181.64 59.67,181.50 60.50,181.50 C61.43,181.50 62.37,181.72 63.30,181.63 C63.80,181.59 64.30,181.46 64.80,181.38 C65.30,181.30 65.80,181.22 66.30,181.14 C66.80,181.06 67.30,180.99 67.80,180.91 C68.30,180.84 68.80,180.76 69.30,180.69 C69.80,180.62 70.30,180.55 70.80,180.48 C71.30,180.41 71.80,180.35 72.30,180.28 C72.80,180.21 73.30,180.15 73.80,180.09 C74.30,180.02 74.80,179.96 75.30,179.90 C75.80,179.84 76.30,179.78 76.80,179.72 C77.30,179.67 77.80,179.61 78.30,179.55 C78.80,179.50 79.30,179.44 79.80,179.39 C80.30,179.34 80.80,179.28 81.30,179.23 C81.80,179.18 82.30,179.13 82.80,179.08 C83.30,179.03 83.80,178.99 84.30,178.94 C84.80,178.89 85.30,178.85 85.80,178.80 C86.30,178.76 86.80,178.71 87.30,178.67 C87.80,178.62 88.30,178.58 88.80,178.54 C89.30,178.50 89.80,178.46 90.30,178.42 C90.80,178.38 91.30,178.34 91.80,178.30 C92.30,178.26 92.80,178.22 93.30,178.19 C93.80,178.15 94.30,178.11 94.80,178.08 C95.30,178.04 95.80,178.01 96.30,177.97 C96.80,177.94 97.30,177.91 97.80,177.87 C98.30,177.84 98.80,177.81 99.30,177.78 C99.80,177.75 100.30,177.72 100.80,177.68 C101.30,177.65 101.80,177.62 102.30,177.60 C102.80,177.57 103.30,177.54 103.80,177.51 C104.30,177.48 104.80,177.45 105.30,177.43 C105.80,177.40 106.30,177.37 106.80,177.35 C107.30,177.32 107.80,177.30 108.30,177.27 C108.80,177.25 109.30,177.22 109.80,177.20 C110.30,177.17 110.80,177.15 111.30,177.13 C111.80,177.10 112.30,177.08 112.80,177.06 C113.30,177.04 113.80,177.02 114.30,176.99 C114.80,176.97 115.30,176.95 115.80,176.93 C116.30,176.91 116.80,176.89 117.30,176.87 C117.80,176.85 118.30,176.83 118.80,176.81 C119.30,176.79 119.80,176.77 120.30,176.75 C120.80,176.74 121.30,176.72 121.80,176.70 C122.30,176.68 122.80,176.66 123.30,176.65 C124.30,176.61 125.30,176.58 126.30,176.55 C127.30,176.52 128.30,176.48 129.30,176.45 C130.30,176.42 131.30,176.40 132.30,176.37 C133.30,176.34 134.30,176.31 135.30,176.29 C136.30,176.26 137.30,176.24 138.30,176.21 C139.30,176.19 140.30,176.17 141.30,176.14 C142.30,176.12 143.30,176.10 144.30,176.08 C145.30,176.06 146.30,176.04 147.30,176.02 C148.30,176.00 149.30,175.98 150.30,175.96 C151.30,175.94 152.30,175.92 153.30,175.91 C154.30,175.89 155.30,175.87 156.30,175.86 C157.30,175.84 158.30,175.83 159.30,175.81 C160.30,175.80 161.30,175.78 162.30,175.77 C163.30,175.75 164.30,175.74 165.30,175.73 C166.30,175.71 167.30,175.70 168.30,175.69 C169.30,175.67 170.30,175.66 171.30,175.65 C172.30,175.64 173.30,175.63 174.30,175.62 C175.30,175.61 176.30,175.60 177.30,175.58 C178.30,175.57 179.30,175.56 180.30,175.55 C181.30,175.55 182.30,175.54 183.30,175.53 C184.30,175.52 185.30,175.51 186.30,175.50 C187.30,175.49 188.30,175.48 189.30,175.48 C190.30,175.47 191.30,175.46 192.30,175.45 C193.30,175.44 194.30,175.44 195.30,175.43 C196.30,175.42 197.30,175.42 198.30,175.41 C199.30,175.40 200.30,175.40 201.30,175.39 C202.30,175.38 203.30,175.38 204.30,175.37 C205.30,175.36 206.30,175.36 207.30,175.35 C208.30,175.35 209.30,175.34 210.30,175.34 C211.30,175.33 212.30,175.33 213.30,175.32 C214.30,175.32 215.30,175.31 216.30,175.31 C217.30,175.30 218.30,175.30 219.30,175.29 C220.30,175.29 221.30,175.28 222.30,175.28 C222.63,175.28 222.97,175.27 223.30,175.27 C225.97,175.26 228.63,175.25 231.30,175.24 C233.97,175.23 236.63,175.22 239.30,175.21 C241.97,175.21 244.63,175.20 247.30,175.19 C249.97,175.18 252.63,175.18 255.30,175.17 C257.97,175.16 260.63,175.16 263.30,175.15 C265.97,175.15 268.63,175.14 271.30,175.14 C273.97,175.13 276.63,175.13 279.30,175.12 C281.97,175.12 284.63,175.11 287.30,175.11 C289.97,175.11 292.63,175.10 295.30,175.10 C297.97,175.10 300.63,175.09 303.30,175.09 C305.97,175.09 308.63,175.08 311.30,175.08 C313.97,175.08 316.63,175.08 319.30,175.08 C321.97,175.07 324.63,175.07 327.30,175.07 C329.97,175.07 332.63,175.07 335.30,175.06 C337.97,175.06 340.63,175.06 343.30,175.06 C345.97,175.06 348.63,175.06 351.30,175.06 C351.40,175.06 351.50,175.06 351.60,175.06" fill="none" stroke="#008080" stroke-width="1.35" stroke-linejoin="round" stroke-linecap="round"/>
<path d="M52.70,98.00 C52.97,108.67 53.19,119.33 53.50,130.00 C53.79,140.00 54.10,150.00 54.50,160.00 C54.71,165.33 54.77,170.68 55.20,176.00 C55.34,177.77 55.20,179.60 55.70,181.30 C56.01,182.36 56.31,183.48 57.00,184.34 C57.42,184.87 57.98,185.26 58.50,185.69 C58.99,186.10 59.48,186.49 60.00,186.85 C60.48,187.18 60.98,187.49 61.50,187.76 C61.99,188.01 62.49,188.24 63.00,188.42 C63.49,188.60 63.99,188.74 64.50,188.85 C64.99,188.96 65.50,189.03 66.00,189.09 C66.50,189.15 67.00,189.17 67.50,189.19 C68.00,189.20 68.50,189.20 69.00,189.19 C69.50,189.18 70.00,189.16 70.50,189.12 C71.00,189.08 71.50,189.03 72.00,188.97 C72.50,188.91 73.00,188.84 73.50,188.76 C74.00,188.68 74.50,188.59 75.00,188.49 C75.50,188.39 76.00,188.28 76.50,188.16 C77.00,188.05 77.50,187.92 78.00,187.79 C78.50,187.66 79.00,187.53 79.50,187.39 C80.00,187.24 80.50,187.10 81.00,186.95 C81.50,186.80 82.00,186.65 82.50,186.49 C83.00,186.34 83.50,186.18 84.00,186.02 C84.50,185.86 85.00,185.70 85.50,185.54 C86.00,185.38 86.50,185.22 87.00,185.06 C87.50,184.89 88.00,184.73 88.50,184.57 C89.00,184.42 89.50,184.26 90.00,184.10 C90.50,183.94 91.00,183.79 91.50,183.64 C92.00,183.49 92.50,183.34 93.00,183.19 C93.50,183.04 94.00,182.90 94.50,182.76 C95.00,182.61 95.50,182.48 96.00,182.34 C96.50,182.21 97.00,182.08 97.50,181.95 C98.00,181.82 98.50,181.70 99.00,181.57 C99.50,181.45 100.00,181.34 100.50,181.22 C101.00,181.11 101.50,181.00 102.00,180.89 C102.50,180.79 103.00,180.69 103.50,180.59 C104.00,180.49 104.50,180.39 105.00,180.30 C105.50,180.20 106.00,180.11 106.50,180.03 C107.00,179.94 107.50,179.85 108.00,179.77 C108.50,179.69 109.00,179.61 109.50,179.53 C110.00,179.46 110.50,179.38 111.00,179.31 C111.50,179.24 112.00,179.17 112.50,179.10 C113.00,179.03 113.50,178.96 114.00,178.90 C114.50,178.84 115.00,178.77 115.50,178.71 C116.00,178.65 116.50,178.59 117.00,178.54 C118.00,178.42 119.00,178.32 120.00,178.22 C121.00,178.11 122.00,178.02 123.00,177.93 C124.00,177.84 125.00,177.75 126.00,177.67 C127.00,177.59 128.00,177.52 129.00,177.45 C130.00,177.37 131.00,177.31 132.00,177.24 C133.00,177.18 134.00,177.12 135.00,177.06 C136.00,177.00 137.00,176.95 138.00,176.89 C139.00,176.84 140.00,176.79 141.00,176.75 C142.00,176.70 143.00,176.66 144.00,176.61 C145.00,176.57 146.00,176.53 147.00,176.49 C148.00,176.45 149.00,176.42 150.00,176.38 C151.00,176.35 152.00,176.32 153.00,176.28 C154.00,176.25 155.00,176.22 156.00,176.19 C157.00,176.17 158.00,176.14 159.00,176.11 C160.00,176.09 161.00,176.06 162.00,176.04 C163.00,176.01 164.00,175.99 165.00,175.97 C166.00,175.95 167.00,175.93 168.00,175.91 C169.00,175.89 170.00,175.87 171.00,175.85 C172.00,175.83 173.00,175.81 174.00,175.80 C175.00,175.78 176.00,175.77 177.00,175.75 C178.00,175.73 179.00,175.72 180.00,175.71 C181.00,175.69 182.00,175.68 183.00,175.67 C184.00,175.65 185.00,175.64 186.00,175.63 C187.00,175.62 188.00,175.60 189.00,175.59 C190.00,175.58 191.00,175.57 192.00,175.56 C193.00,175.55 194.00,175.54 195.00,175.53 C196.00,175.52 197.00,175.51 198.00,175.50 C199.00,175.49 200.00,175.49 201.00,175.48 C202.00,175.47 203.00,175.46 204.00,175.45 C205.00,175.45 206.00,175.44 207.00,175.43 C208.00,175.42 209.00,175.42 210.00,175.41 C211.00,175.40 212.00,175.40 213.00,175.39 C214.00,175.39 215.00,175.38 216.00,175.37 C216.33,175.37 216.67,175.37 217.00,175.37 C219.67,175.35 222.33,175.34 225.00,175.33 C227.67,175.31 230.33,175.30 233.00,175.29 C235.67,175.28 238.33,175.27 241.00,175.26 C243.67,175.25 246.33,175.24 249.00,175.23 C251.67,175.23 254.33,175.22 257.00,175.21 C259.67,175.20 262.33,175.20 265.00,175.19 C267.67,175.18 270.33,175.18 273.00,175.17 C275.67,175.17 278.33,175.16 281.00,175.16 C283.67,175.15 286.33,175.15 289.00,175.14 C291.67,175.14 294.33,175.13 297.00,175.13 C299.67,175.12 302.33,175.12 305.00,175.11 C307.67,175.11 310.33,175.11 313.00,175.10 C315.67,175.10 318.33,175.09 321.00,175.09 C323.67,175.09 326.33,175.08 329.00,175.08 C331.67,175.07 334.33,175.07 337.00,175.07 C339.67,175.06 342.33,175.06 345.00,175.06 C347.20,175.05 349.40,175.05 351.60,175.05" fill="none" stroke="#008080" stroke-width="1.35" stroke-linejoin="round" stroke-linecap="round"/>
<path d="M52.30,241.00 C52.53,235.67 52.74,230.33 53.00,225.00 C53.43,216.00 53.92,207.00 54.50,198.00 C54.78,193.67 54.64,189.28 55.40,185.00 C55.55,184.16 55.51,183.26 55.90,182.50 C56.74,180.85 56.50,186.17 56.80,188.00 C57.30,191.08 57.07,194.38 58.30,197.25 C58.72,198.23 59.26,199.16 59.80,200.07 C60.27,200.87 60.74,201.66 61.30,202.40 C61.76,203.01 62.24,203.63 62.80,204.15 C63.26,204.57 63.75,204.99 64.30,205.28 C64.77,205.53 65.28,205.74 65.80,205.83 C66.29,205.92 66.80,205.92 67.30,205.87 C67.81,205.81 68.31,205.66 68.80,205.49 C69.32,205.31 69.81,205.06 70.30,204.81 C70.81,204.55 71.31,204.25 71.80,203.95 C72.31,203.65 72.80,203.33 73.30,203.01 C73.80,202.69 74.30,202.36 74.80,202.02 C75.30,201.69 75.80,201.35 76.30,201.00 C76.80,200.66 77.30,200.31 77.80,199.96 C78.30,199.61 78.80,199.26 79.30,198.90 C79.80,198.55 80.30,198.20 80.80,197.84 C81.30,197.49 81.80,197.14 82.30,196.78 C82.80,196.43 83.30,196.08 83.80,195.74 C84.30,195.39 84.80,195.05 85.30,194.71 C85.80,194.37 86.30,194.03 86.80,193.70 C87.30,193.37 87.80,193.04 88.30,192.72 C88.80,192.40 89.30,192.09 89.80,191.77 C90.30,191.47 90.80,191.16 91.30,190.86 C91.80,190.56 92.30,190.27 92.80,189.99 C93.30,189.70 93.80,189.42 94.30,189.15 C94.80,188.88 95.30,188.61 95.80,188.35 C96.30,188.09 96.80,187.84 97.30,187.59 C97.80,187.35 98.30,187.11 98.80,186.87 C99.30,186.64 99.80,186.42 100.30,186.20 C100.80,185.98 101.30,185.77 101.80,185.56 C102.30,185.36 102.80,185.16 103.30,184.96 C103.80,184.77 104.30,184.58 104.80,184.40 C105.30,184.22 105.80,184.05 106.30,183.88 C106.80,183.71 107.30,183.55 107.80,183.39 C108.30,183.23 108.80,183.08 109.30,182.93 C109.80,182.79 110.30,182.64 110.80,182.51 C111.30,182.37 111.80,182.23 112.30,182.10 C112.80,181.98 113.30,181.85 113.80,181.73 C114.30,181.61 114.80,181.49 115.30,181.38 C115.80,181.26 116.30,181.15 116.80,181.05 C117.30,180.94 117.80,180.84 118.30,180.74 C119.30,180.54 120.30,180.35 121.30,180.17 C122.30,180.00 123.30,179.83 124.30,179.67 C125.30,179.52 126.30,179.37 127.30,179.23 C128.30,179.09 129.30,178.96 130.30,178.84 C131.30,178.72 132.30,178.60 133.30,178.49 C134.30,178.38 135.30,178.28 136.30,178.18 C137.30,178.09 138.30,177.99 139.30,177.91 C140.30,177.82 141.30,177.74 142.30,177.66 C143.30,177.58 144.30,177.51 145.30,177.44 C146.30,177.37 147.30,177.30 148.30,177.24 C149.30,177.17 150.30,177.11 151.30,177.06 C152.30,177.00 153.30,176.95 154.30,176.90 C155.30,176.84 156.30,176.80 157.30,176.75 C158.30,176.70 159.30,176.66 160.30,176.62 C161.30,176.58 162.30,176.54 163.30,176.50 C164.30,176.46 165.30,176.42 166.30,176.39 C167.30,176.35 168.30,176.32 169.30,176.29 C170.30,176.26 171.30,176.23 172.30,176.20 C173.30,176.17 174.30,176.14 175.30,176.12 C176.30,176.09 177.30,176.07 178.30,176.04 C179.30,176.02 180.30,176.00 181.30,175.97 C182.30,175.95 183.30,175.93 184.30,175.91 C185.30,175.89 186.30,175.87 187.30,175.85 C188.30,175.84 189.30,175.82 190.30,175.80 C191.30,175.78 192.30,175.77 193.30,175.75 C194.30,175.74 195.30,175.72 196.30,175.71 C197.30,175.69 198.30,175.68 199.30,175.67 C200.30,175.65 201.30,175.64 202.30,175.63 C203.30,175.62 204.30,175.60 205.30,175.59 C206.30,175.58 207.30,175.57 208.30,175.56 C209.30,175.55 210.30,175.54 211.30,175.53 C212.30,175.52 213.30,175.51 214.30,175.50 C215.30,175.49 216.30,175.48 217.30,175.47 C217.63,175.47 217.97,175.47 218.30,175.47 C220.97,175.44 223.63,175.42 226.30,175.40 C228.97,175.39 231.63,175.37 234.30,175.35 C236.97,175.34 239.63,175.32 242.30,175.31 C244.97,175.30 247.63,175.29 250.30,175.27 C252.97,175.26 255.63,175.25 258.30,175.24 C260.97,175.23 263.63,175.22 266.30,175.22 C268.97,175.21 271.63,175.20 274.30,175.19 C276.97,175.18 279.63,175.18 282.30,175.17 C284.97,175.16 287.63,175.16 290.30,175.15 C292.97,175.14 295.63,175.14 298.30,175.13 C300.97,175.13 303.63,175.12 306.30,175.12 C308.97,175.11 311.63,175.11 314.30,175.10 C316.97,175.10 319.63,175.09 322.30,175.09 C324.97,175.08 327.63,175.08 330.30,175.08 C332.97,175.07 335.63,175.07 338.30,175.06 C340.97,175.06 343.63,175.06 346.30,175.05 C348.07,175.05 349.83,175.05 351.60,175.04" fill="none" stroke="#008080" stroke-width="1.35" stroke-linejoin="round" stroke-linecap="round"/>
<line x1="367.80" y1="21.50" x2="670.80" y2="21.50" stroke="#ff00ff" stroke-width="1.35"/>
<path d="M368.45,206.00 C368.47,187.33 368.47,168.67 368.50,150.00 C368.51,140.00 368.50,130.00 368.55,120.00 C368.58,113.33 368.62,106.67 368.70,100.00 C368.76,95.00 368.84,90.00 368.95,85.00 C369.05,80.67 369.12,76.33 369.30,72.00 C369.42,69.00 369.50,65.99 369.75,63.00 C369.90,61.20 369.92,59.37 370.30,57.60 C370.49,56.72 370.47,55.72 371.00,55.00 C371.27,54.63 371.65,54.35 372.00,54.07 C372.47,53.68 373.00,53.38 373.50,53.04 C374.00,52.70 374.50,52.36 375.00,52.02 C375.50,51.69 376.00,51.36 376.50,51.03 C377.00,50.71 377.50,50.38 378.00,50.06 C378.50,49.74 379.00,49.42 379.50,49.11 C380.00,48.79 380.50,48.48 381.00,48.18 C381.50,47.87 382.00,47.57 382.50,47.27 C383.00,46.97 383.50,46.67 384.00,46.38 C384.50,46.09 385.00,45.80 385.50,45.52 C386.00,45.23 386.50,44.95 387.00,44.68 C387.50,44.40 388.00,44.13 388.50,43.86 C389.00,43.59 389.50,43.32 390.00,43.06 C390.50,42.80 391.00,42.55 391.50,42.29 C392.00,42.04 392.50,41.79 393.00,41.54 C393.50,41.30 394.00,41.06 394.50,40.82 C395.00,40.58 395.50,40.35 396.00,40.12 C396.50,39.89 397.00,39.66 397.50,39.44 C398.00,39.22 398.50,39.00 399.00,38.78 C399.50,38.57 400.00,38.36 400.50,38.15 C401.00,37.94 401.50,37.74 402.00,37.53 C402.50,37.33 403.00,37.14 403.50,36.94 C404.00,36.75 404.50,36.56 405.00,36.37 C405.50,36.19 406.00,36.01 406.50,35.83 C407.00,35.65 407.50,35.47 408.00,35.30 C408.50,35.13 409.00,34.96 409.50,34.79 C410.00,34.62 410.50,34.46 411.00,34.30 C411.50,34.14 412.00,33.98 412.50,33.83 C413.00,33.68 413.50,33.53 414.00,33.38 C414.50,33.23 415.00,33.09 415.50,32.94 C416.00,32.80 416.50,32.66 417.00,32.53 C417.50,32.39 418.00,32.26 418.50,32.13 C419.00,32.00 419.50,31.87 420.00,31.75 C420.50,31.62 421.00,31.50 421.50,31.38 C422.00,31.26 422.50,31.14 423.00,31.03 C423.50,30.91 424.00,30.80 424.50,30.69 C425.00,30.58 425.50,30.47 426.00,30.37 C426.50,30.26 427.00,30.16 427.50,30.06 C428.00,29.96 428.50,29.86 429.00,29.76 C429.50,29.66 430.00,29.57 430.50,29.48 C431.00,29.38 431.50,29.29 432.00,29.20 C433.00,29.03 434.00,28.86 435.00,28.69 C436.00,28.53 437.00,28.37 438.00,28.22 C439.00,28.07 440.00,27.93 441.00,27.79 C442.00,27.65 443.00,27.52 444.00,27.39 C445.00,27.26 446.00,27.14 447.00,27.02 C448.00,26.90 449.00,26.79 450.00,26.68 C451.00,26.57 452.00,26.46 453.00,26.36 C454.00,26.26 455.00,26.16 456.00,26.07 C457.00,25.97 458.00,25.88 459.00,25.79 C460.00,25.71 461.00,25.62 462.00,25.54 C463.00,25.46 464.00,25.38 465.00,25.31 C466.00,25.23 467.00,25.16 468.00,25.09 C469.00,25.02 470.00,24.95 471.00,24.89 C472.00,24.82 473.00,24.76 474.00,24.70 C475.00,24.64 476.00,24.58 477.00,24.52 C478.00,24.46 479.00,24.41 480.00,24.36 C481.00,24.30 482.00,24.25 483.00,24.20 C484.00,24.15 485.00,24.10 486.00,24.06 C487.00,24.01 488.00,23.97 489.00,23.92 C490.00,23.88 491.00,23.84 492.00,23.80 C493.00,23.76 494.00,23.72 495.00,23.68 C496.00,23.64 497.00,23.60 498.00,23.57 C499.00,23.53 500.00,23.50 501.00,23.46 C502.00,23.43 503.00,23.40 504.00,23.36 C505.00,23.33 506.00,23.30 507.00,23.27 C508.00,23.24 509.00,23.21 510.00,23.19 C511.00,23.16 512.00,23.13 513.00,23.10 C514.00,23.08 515.00,23.05 516.00,23.03 C517.00,23.00 518.00,22.98 519.00,22.95 C520.00,22.93 521.00,22.91 522.00,22.88 C523.00,22.86 524.00,22.84 525.00,22.82 C526.00,22.80 527.00,22.78 528.00,22.76 C529.00,22.74 530.00,22.72 531.00,22.70 C531.33,22.69 531.67,22.69 532.00,22.68 C534.67,22.63 537.33,22.58 540.00,22.54 C542.67,22.50 545.33,22.46 548.00,22.42 C550.67,22.38 553.33,22.35 556.00,22.31 C558.67,22.28 561.33,22.25 564.00,22.22 C566.67,22.19 569.33,22.17 572.00,22.14 C574.67,22.11 577.33,22.09 580.00,22.07 C582.67,22.04 585.33,22.02 588.00,22.00 C590.67,21.98 593.33,21.96 596.00,21.95 C598.67,21.93 601.33,21.91 604.00,21.89 C606.67,21.88 609.33,21.86 612.00,21.85 C614.67,21.83 617.33,21.82 620.00,21.81 C622.67,21.79 625.33,21.78 628.00,21.77 C630.67,21.76 633.33,21.75 636.00,21.74 C638.67,21.73 641.33,21.72 644.00,21.71 C646.67,21.70 649.33,21.69 652.00,21.68 C654.67,21.67 657.33,21.67 660.00,21.66 C662.67,21.65 665.33,21.64 668.00,21.64 C668.93,21.63 669.87,21.63 670.80,21.63" fill="none" stroke="#ff00ff" stroke-width="1.35" stroke-linejoin="round" stroke-linecap="round"/>
<path d="M368.45,206.00 C368.50,187.33 368.44,168.67 368.60,150.00 C368.71,136.67 368.67,123.33 369.10,110.00 C369.24,105.67 368.95,101.29 369.60,97.00 C369.81,95.59 369.19,93.55 370.40,92.80 C370.73,92.60 371.11,92.39 371.50,92.40 C372.20,92.43 372.30,93.81 373.00,93.87 C373.55,93.92 374.02,93.46 374.50,93.19 C375.03,92.90 375.52,92.54 376.00,92.18 C376.53,91.78 377.02,91.34 377.50,90.89 C378.02,90.40 378.52,89.87 379.00,89.35 C379.52,88.78 380.01,88.20 380.50,87.61 C381.01,86.98 381.51,86.34 382.00,85.70 C382.51,85.03 383.01,84.35 383.50,83.67 C384.01,82.97 384.50,82.26 385.00,81.55 C385.50,80.83 386.00,80.11 386.50,79.38 C387.00,78.65 387.50,77.92 388.00,77.19 C388.50,76.46 389.00,75.73 389.50,75.00 C390.00,74.28 390.50,73.56 391.00,72.84 C391.50,72.13 392.00,71.42 392.50,70.72 C393.00,70.02 393.50,69.33 394.00,68.64 C394.50,67.97 395.00,67.29 395.50,66.62 C396.00,65.96 396.49,65.30 397.00,64.65 C397.50,64.01 397.99,63.38 398.50,62.74 C398.99,62.13 399.49,61.51 400.00,60.90 C400.49,60.31 400.99,59.72 401.50,59.13 C401.99,58.56 402.49,57.99 403.00,57.43 C403.49,56.88 403.99,56.33 404.50,55.79 C404.99,55.27 405.49,54.75 406.00,54.23 C406.49,53.73 406.99,53.23 407.50,52.74 C407.99,52.27 408.49,51.79 409.00,51.33 C409.49,50.87 409.99,50.42 410.50,49.98 C410.99,49.55 411.49,49.12 412.00,48.70 C412.49,48.29 412.99,47.89 413.50,47.50 C413.99,47.11 414.49,46.73 415.00,46.36 C415.49,45.99 415.99,45.63 416.50,45.28 C417.00,44.94 417.50,44.60 418.00,44.27 C418.50,43.94 419.00,43.63 419.50,43.32 C420.00,43.01 420.50,42.72 421.00,42.43 C421.50,42.14 422.00,41.86 422.50,41.59 C423.00,41.33 423.50,41.07 424.00,40.81 C424.50,40.56 425.00,40.32 425.50,40.08 C426.00,39.84 426.50,39.62 427.00,39.39 C427.50,39.17 428.00,38.96 428.50,38.75 C429.00,38.54 429.50,38.34 430.00,38.14 C430.50,37.95 431.00,37.76 431.50,37.57 C432.00,37.39 432.50,37.21 433.00,37.03 C433.99,36.68 434.99,36.36 436.00,36.04 C437.00,35.73 438.00,35.44 439.00,35.16 C440.00,34.88 441.00,34.61 442.00,34.36 C443.00,34.11 444.00,33.87 445.00,33.64 C446.00,33.41 447.00,33.19 448.00,32.98 C449.00,32.77 450.00,32.57 451.00,32.38 C452.00,32.19 453.00,32.01 454.00,31.83 C455.00,31.65 456.00,31.48 457.00,31.32 C458.00,31.15 459.00,31.00 460.00,30.84 C461.00,30.69 462.00,30.54 463.00,30.40 C464.00,30.26 465.00,30.12 466.00,29.98 C467.00,29.85 468.00,29.71 469.00,29.58 C470.00,29.46 471.00,29.33 472.00,29.21 C473.00,29.08 474.00,28.96 475.00,28.85 C476.00,28.73 477.00,28.61 478.00,28.50 C479.00,28.39 480.00,28.27 481.00,28.16 C482.00,28.05 483.00,27.94 484.00,27.84 C485.00,27.73 486.00,27.62 487.00,27.52 C488.00,27.41 489.00,27.31 490.00,27.21 C491.00,27.11 492.00,27.00 493.00,26.90 C494.00,26.80 495.00,26.70 496.00,26.61 C497.00,26.51 498.00,26.41 499.00,26.31 C500.00,26.22 501.00,26.12 502.00,26.03 C503.00,25.93 504.00,25.84 505.00,25.75 C506.00,25.66 507.00,25.57 508.00,25.48 C509.00,25.39 510.00,25.30 511.00,25.22 C512.00,25.14 513.00,25.05 514.00,24.97 C515.00,24.89 516.00,24.81 517.00,24.74 C518.00,24.66 519.00,24.58 520.00,24.51 C521.00,24.44 522.00,24.37 523.00,24.30 C524.00,24.23 525.00,24.16 526.00,24.09 C527.00,24.03 528.00,23.97 529.00,23.90 C530.00,23.84 531.00,23.78 532.00,23.73 C532.33,23.71 532.67,23.69 533.00,23.67 C535.67,23.52 538.33,23.38 541.00,23.26 C543.67,23.13 546.33,23.02 549.00,22.92 C551.67,22.81 554.33,22.72 557.00,22.64 C559.67,22.56 562.33,22.48 565.00,22.42 C567.67,22.35 570.33,22.29 573.00,22.24 C575.67,22.19 578.33,22.14 581.00,22.10 C583.67,22.06 586.33,22.02 589.00,21.99 C591.67,21.96 594.33,21.93 597.00,21.90 C599.67,21.88 602.33,21.86 605.00,21.83 C607.67,21.81 610.33,21.80 613.00,21.78 C615.67,21.77 618.33,21.75 621.00,21.74 C623.67,21.73 626.33,21.72 629.00,21.71 C631.67,21.70 634.33,21.69 637.00,21.69 C639.67,21.68 642.33,21.67 645.00,21.67 C647.67,21.66 650.33,21.66 653.00,21.66 C655.67,21.65 658.33,21.65 661.00,21.65 C663.67,21.65 666.33,21.65 669.00,21.65 C669.60,21.65 670.20,21.65 670.80,21.65" fill="none" stroke="#ff00ff" stroke-width="1.35" stroke-linejoin="round" stroke-linecap="round"/>
<path d="M368.50,100.00 C368.77,108.33 368.83,116.68 369.30,125.00 C369.54,129.34 369.60,133.70 370.20,138.00 C370.49,140.13 370.85,142.25 371.30,144.35 C371.72,146.32 372.01,148.36 372.80,150.21 C373.22,151.21 373.39,152.51 374.30,153.08 C374.75,153.36 375.28,153.63 375.80,153.57 C376.43,153.49 376.85,152.85 377.30,152.41 C377.90,151.81 378.33,151.06 378.80,150.36 C379.35,149.54 379.83,148.67 380.30,147.81 C380.83,146.83 381.32,145.83 381.80,144.83 C382.33,143.72 382.82,142.60 383.30,141.48 C383.82,140.28 384.31,139.06 384.80,137.84 C385.31,136.56 385.81,135.27 386.30,133.98 C386.81,132.64 387.31,131.30 387.80,129.95 C388.31,128.58 388.80,127.20 389.30,125.82 C389.80,124.42 390.30,123.02 390.80,121.63 C391.30,120.22 391.80,118.82 392.30,117.42 C392.80,116.02 393.30,114.62 393.80,113.22 C394.30,111.83 394.80,110.45 395.30,109.07 C395.80,107.70 396.30,106.34 396.80,104.98 C397.30,103.64 397.80,102.30 398.30,100.96 C398.80,99.65 399.29,98.34 399.80,97.04 C400.29,95.76 400.79,94.48 401.30,93.21 C401.79,91.96 402.29,90.72 402.80,89.48 C403.29,88.28 403.79,87.07 404.30,85.87 C404.79,84.70 405.29,83.53 405.80,82.37 C406.29,81.24 406.79,80.12 407.30,79.00 C407.79,77.92 408.29,76.84 408.80,75.77 C409.29,74.75 409.79,73.73 410.30,72.72 C410.79,71.76 411.29,70.80 411.80,69.85 C412.29,68.94 412.79,68.05 413.30,67.16 C413.79,66.32 414.29,65.48 414.80,64.65 C415.29,63.88 415.78,63.10 416.30,62.34 C416.79,61.62 417.28,60.91 417.80,60.21 C418.29,59.56 418.79,58.91 419.30,58.27 C419.79,57.66 420.29,57.07 420.80,56.48 C421.29,55.91 421.79,55.36 422.30,54.81 C422.79,54.28 423.29,53.75 423.80,53.23 C424.29,52.73 424.80,52.23 425.30,51.73 C425.80,51.24 426.30,50.76 426.80,50.28 C427.30,49.80 427.80,49.33 428.30,48.86 C428.80,48.39 429.30,47.93 429.80,47.47 C430.30,47.01 430.79,46.55 431.30,46.11 C432.28,45.25 433.26,44.40 434.30,43.62 C435.27,42.89 436.27,42.19 437.30,41.55 C438.27,40.95 439.28,40.40 440.30,39.88 C441.28,39.39 442.29,38.93 443.30,38.49 C444.29,38.06 445.30,37.66 446.30,37.27 C447.30,36.87 448.30,36.50 449.30,36.12 C450.30,35.76 451.30,35.39 452.30,35.04 C453.30,34.70 454.30,34.36 455.30,34.04 C456.30,33.72 457.30,33.42 458.30,33.13 C459.30,32.84 460.30,32.57 461.30,32.31 C462.30,32.06 463.30,31.82 464.30,31.60 C465.30,31.37 466.30,31.16 467.30,30.96 C468.30,30.76 469.30,30.57 470.30,30.40 C471.30,30.22 472.30,30.05 473.30,29.89 C474.30,29.73 475.30,29.58 476.30,29.43 C477.30,29.29 478.30,29.15 479.30,29.02 C480.30,28.89 481.30,28.76 482.30,28.64 C483.30,28.52 484.30,28.40 485.30,28.29 C486.30,28.18 487.30,28.07 488.30,27.97 C489.30,27.86 490.30,27.77 491.30,27.67 C492.30,27.57 493.30,27.48 494.30,27.39 C495.30,27.29 496.30,27.21 497.30,27.12 C498.30,27.03 499.30,26.95 500.30,26.86 C501.30,26.78 502.30,26.70 503.30,26.62 C504.30,26.54 505.30,26.46 506.30,26.38 C507.30,26.31 508.30,26.23 509.30,26.16 C510.30,26.08 511.30,26.01 512.30,25.93 C513.30,25.86 514.30,25.78 515.30,25.71 C516.30,25.64 517.30,25.57 518.30,25.50 C519.30,25.42 520.30,25.35 521.30,25.28 C522.30,25.21 523.30,25.14 524.30,25.07 C525.30,25.00 526.30,24.93 527.30,24.86 C528.30,24.80 529.30,24.73 530.30,24.66 C530.63,24.64 530.97,24.61 531.30,24.59 C533.97,24.41 536.63,24.23 539.30,24.06 C541.97,23.89 544.63,23.73 547.30,23.58 C549.97,23.43 552.63,23.30 555.30,23.17 C557.97,23.04 560.63,22.93 563.30,22.82 C565.97,22.72 568.63,22.62 571.30,22.54 C573.97,22.45 576.63,22.38 579.30,22.31 C581.97,22.25 584.63,22.19 587.30,22.14 C589.97,22.09 592.63,22.04 595.30,22.00 C597.97,21.96 600.63,21.93 603.30,21.90 C605.97,21.87 608.63,21.84 611.30,21.82 C613.97,21.80 616.63,21.78 619.30,21.76 C621.97,21.75 624.63,21.73 627.30,21.72 C629.97,21.71 632.63,21.70 635.30,21.69 C637.97,21.68 640.63,21.67 643.30,21.67 C645.97,21.66 648.63,21.66 651.30,21.65 C653.97,21.65 656.63,21.65 659.30,21.65 C661.97,21.65 664.63,21.64 667.30,21.65 C668.47,21.65 669.63,21.65 670.80,21.65" fill="none" stroke="#ff00ff" stroke-width="1.35" stroke-linejoin="round" stroke-linecap="round"/>
<path d="M368.60,98.00 C368.90,107.00 369.17,116.00 369.50,125.00 C369.81,133.33 370.05,141.67 370.50,150.00 C370.73,154.34 370.63,158.71 371.30,163.00 C371.61,165.02 371.79,167.09 372.50,169.00 C372.97,170.26 373.38,171.63 374.30,172.60 C374.94,173.28 375.75,173.82 376.60,174.20 C377.65,174.66 378.86,174.65 380.00,174.80 C383.30,175.24 386.67,174.88 390.00,174.90 C400.00,174.97 410.00,174.90 420.00,174.90 C503.60,174.90 587.20,174.90 670.80,174.90" fill="none" stroke="#008080" stroke-width="1.35" stroke-linejoin="round" stroke-linecap="round"/>
<path d="M368.60,98.00 C368.90,107.00 369.17,116.00 369.50,125.00 C369.81,133.33 370.09,141.67 370.50,150.00 C370.71,154.33 370.72,158.69 371.20,163.00 C371.46,165.34 371.65,167.71 372.20,170.00 C372.55,171.46 372.70,173.03 373.50,174.30 C374.03,175.14 374.66,175.97 375.50,176.50 C376.19,176.93 377.02,177.08 377.80,177.30 C378.52,177.50 379.25,177.74 380.00,177.80 C380.50,177.83 381.00,177.78 381.50,177.77 C382.00,177.76 382.50,177.75 383.00,177.74 C383.50,177.73 384.00,177.72 384.50,177.71 C385.00,177.70 385.50,177.69 386.00,177.68 C386.50,177.67 387.00,177.66 387.50,177.65 C388.00,177.64 388.50,177.62 389.00,177.61 C389.50,177.60 390.00,177.59 390.50,177.58 C391.00,177.57 391.50,177.56 392.00,177.55 C392.50,177.54 393.00,177.53 393.50,177.52 C394.00,177.51 394.50,177.50 395.00,177.49 C395.50,177.48 396.00,177.47 396.50,177.46 C397.00,177.45 397.50,177.44 398.00,177.43 C398.50,177.41 399.00,177.40 399.50,177.39 C400.00,177.38 400.50,177.37 401.00,177.36 C401.50,177.35 402.00,177.34 402.50,177.33 C403.00,177.32 403.50,177.31 404.00,177.30 C404.50,177.29 405.00,177.28 405.50,177.26 C406.00,177.25 406.50,177.24 407.00,177.23 C407.50,177.22 408.00,177.21 408.50,177.20 C409.00,177.19 409.50,177.18 410.00,177.17 C410.50,177.16 411.00,177.15 411.50,177.14 C412.00,177.13 412.50,177.12 413.00,177.10 C413.50,177.09 414.00,177.08 414.50,177.07 C415.00,177.06 415.50,177.05 416.00,177.04 C416.50,177.03 417.00,177.02 417.50,177.01 C418.00,177.00 418.50,176.99 419.00,176.98 C419.50,176.97 420.00,176.96 420.50,176.95 C421.00,176.94 421.50,176.93 422.00,176.92 C422.50,176.91 423.00,176.90 423.50,176.88 C424.00,176.87 424.50,176.86 425.00,176.85 C425.50,176.84 426.00,176.83 426.50,176.82 C427.00,176.81 427.50,176.80 428.00,176.79 C428.50,176.78 429.00,176.77 429.50,176.76 C430.00,176.75 430.50,176.74 431.00,176.73 C431.50,176.72 432.00,176.71 432.50,176.70 C433.00,176.69 433.50,176.68 434.00,176.67 C434.50,176.66 435.00,176.65 435.50,176.64 C436.00,176.64 436.50,176.63 437.00,176.62 C437.50,176.61 438.00,176.60 438.50,176.59 C439.00,176.58 439.50,176.57 440.00,176.56 C441.00,176.54 442.00,176.52 443.00,176.50 C444.00,176.48 445.00,176.47 446.00,176.45 C447.00,176.43 448.00,176.41 449.00,176.40 C450.00,176.38 451.00,176.36 452.00,176.34 C453.00,176.33 454.00,176.31 455.00,176.29 C456.00,176.28 457.00,176.26 458.00,176.24 C459.00,176.23 460.00,176.21 461.00,176.19 C462.00,176.18 463.00,176.16 464.00,176.15 C465.00,176.13 466.00,176.12 467.00,176.10 C468.00,176.09 469.00,176.07 470.00,176.06 C471.00,176.04 472.00,176.03 473.00,176.01 C474.00,176.00 475.00,175.99 476.00,175.97 C477.00,175.96 478.00,175.95 479.00,175.93 C480.00,175.92 481.00,175.91 482.00,175.89 C483.00,175.88 484.00,175.87 485.00,175.86 C486.00,175.84 487.00,175.83 488.00,175.82 C489.00,175.81 490.00,175.80 491.00,175.79 C492.00,175.77 493.00,175.76 494.00,175.75 C495.00,175.74 496.00,175.73 497.00,175.72 C498.00,175.71 499.00,175.70 500.00,175.69 C501.00,175.68 502.00,175.67 503.00,175.66 C504.00,175.65 505.00,175.64 506.00,175.63 C507.00,175.62 508.00,175.61 509.00,175.60 C510.00,175.59 511.00,175.58 512.00,175.57 C513.00,175.56 514.00,175.56 515.00,175.55 C516.00,175.54 517.00,175.53 518.00,175.52 C519.00,175.51 520.00,175.51 521.00,175.50 C522.00,175.49 523.00,175.48 524.00,175.48 C525.00,175.47 526.00,175.46 527.00,175.45 C528.00,175.45 529.00,175.44 530.00,175.43 C531.00,175.43 532.00,175.42 533.00,175.41 C534.00,175.41 535.00,175.40 536.00,175.39 C537.00,175.39 538.00,175.38 539.00,175.38 C539.33,175.37 539.67,175.37 540.00,175.37 C542.67,175.35 545.33,175.34 548.00,175.33 C550.67,175.31 553.33,175.30 556.00,175.29 C558.67,175.27 561.33,175.26 564.00,175.25 C566.67,175.24 569.33,175.23 572.00,175.22 C574.67,175.21 577.33,175.20 580.00,175.19 C582.67,175.18 585.33,175.18 588.00,175.17 C590.67,175.16 593.33,175.15 596.00,175.15 C598.67,175.14 601.33,175.14 604.00,175.13 C606.67,175.12 609.33,175.12 612.00,175.11 C614.67,175.11 617.33,175.11 620.00,175.10 C622.67,175.10 625.33,175.09 628.00,175.09 C630.67,175.09 633.33,175.08 636.00,175.08 C638.67,175.08 641.33,175.07 644.00,175.07 C646.67,175.07 649.33,175.07 652.00,175.06 C654.67,175.06 657.33,175.06 660.00,175.06 C662.67,175.06 665.33,175.06 668.00,175.06 C668.93,175.06 669.87,175.05 670.80,175.05" fill="none" stroke="#008080" stroke-width="1.35" stroke-linejoin="round" stroke-linecap="round"/>
<path d="M368.60,98.00 C368.97,107.00 369.32,116.00 369.70,125.00 C370.05,133.33 370.25,141.68 370.80,150.00 C371.13,155.00 371.44,160.02 372.00,165.00 C372.39,168.48 372.38,172.05 373.40,175.40 C374.03,177.46 374.53,179.70 375.90,181.37 C376.35,181.91 376.88,182.39 377.40,182.88 C377.88,183.32 378.37,183.77 378.90,184.16 C379.38,184.52 379.87,184.85 380.40,185.13 C380.88,185.39 381.38,185.60 381.90,185.78 C382.39,185.94 382.89,186.05 383.40,186.15 C383.90,186.24 384.40,186.29 384.90,186.34 C385.40,186.39 385.90,186.42 386.40,186.44 C386.90,186.47 387.40,186.48 387.90,186.49 C388.40,186.49 388.90,186.49 389.40,186.47 C389.90,186.46 390.40,186.43 390.90,186.40 C391.40,186.37 391.90,186.33 392.40,186.28 C392.90,186.23 393.40,186.17 393.90,186.11 C394.40,186.04 394.90,185.97 395.40,185.89 C395.90,185.82 396.40,185.73 396.90,185.64 C397.40,185.55 397.90,185.46 398.40,185.36 C398.90,185.26 399.40,185.16 399.90,185.05 C400.40,184.94 400.90,184.83 401.40,184.72 C401.90,184.61 402.40,184.49 402.90,184.37 C403.40,184.26 403.90,184.14 404.40,184.02 C404.90,183.90 405.40,183.78 405.90,183.66 C406.40,183.54 406.90,183.41 407.40,183.29 C407.90,183.17 408.40,183.05 408.90,182.93 C409.40,182.81 409.90,182.69 410.40,182.57 C410.90,182.45 411.40,182.34 411.90,182.22 C412.40,182.10 412.90,181.99 413.40,181.88 C413.90,181.77 414.40,181.66 414.90,181.55 C415.40,181.44 415.90,181.34 416.40,181.23 C416.90,181.13 417.40,181.03 417.90,180.93 C418.40,180.83 418.90,180.74 419.40,180.64 C419.90,180.55 420.40,180.46 420.90,180.37 C421.40,180.29 421.90,180.20 422.40,180.12 C422.90,180.04 423.40,179.95 423.90,179.88 C424.40,179.80 424.90,179.72 425.40,179.65 C425.90,179.58 426.40,179.50 426.90,179.43 C427.40,179.36 427.90,179.30 428.40,179.23 C428.90,179.17 429.40,179.10 429.90,179.04 C430.40,178.98 430.90,178.92 431.40,178.86 C431.90,178.80 432.40,178.74 432.90,178.69 C433.40,178.63 433.90,178.58 434.40,178.52 C434.90,178.47 435.40,178.42 435.90,178.37 C436.90,178.27 437.90,178.18 438.90,178.09 C439.90,178.00 440.90,177.91 441.90,177.83 C442.90,177.75 443.90,177.67 444.90,177.60 C445.90,177.53 446.90,177.46 447.90,177.39 C448.90,177.33 449.90,177.27 450.90,177.21 C451.90,177.15 452.90,177.09 453.90,177.04 C454.90,176.98 455.90,176.93 456.90,176.88 C457.90,176.84 458.90,176.79 459.90,176.75 C460.90,176.70 461.90,176.66 462.90,176.62 C463.90,176.58 464.90,176.54 465.90,176.50 C466.90,176.47 467.90,176.43 468.90,176.40 C469.90,176.36 470.90,176.33 471.90,176.30 C472.90,176.27 473.90,176.24 474.90,176.21 C475.90,176.19 476.90,176.16 477.90,176.13 C478.90,176.11 479.90,176.08 480.90,176.06 C481.90,176.04 482.90,176.01 483.90,175.99 C484.90,175.97 485.90,175.95 486.90,175.93 C487.90,175.91 488.90,175.89 489.90,175.87 C490.90,175.85 491.90,175.84 492.90,175.82 C493.90,175.80 494.90,175.79 495.90,175.77 C496.90,175.76 497.90,175.74 498.90,175.73 C499.90,175.71 500.90,175.70 501.90,175.68 C502.90,175.67 503.90,175.66 504.90,175.65 C505.90,175.63 506.90,175.62 507.90,175.61 C508.90,175.60 509.90,175.59 510.90,175.58 C511.90,175.57 512.90,175.56 513.90,175.55 C514.90,175.54 515.90,175.53 516.90,175.52 C517.90,175.51 518.90,175.50 519.90,175.49 C520.90,175.48 521.90,175.47 522.90,175.46 C523.90,175.46 524.90,175.45 525.90,175.44 C526.90,175.43 527.90,175.43 528.90,175.42 C529.90,175.41 530.90,175.41 531.90,175.40 C532.90,175.39 533.90,175.39 534.90,175.38 C535.23,175.38 535.57,175.38 535.90,175.37 C538.57,175.36 541.23,175.34 543.90,175.33 C546.57,175.32 549.23,175.30 551.90,175.29 C554.57,175.28 557.23,175.27 559.90,175.26 C562.57,175.25 565.23,175.24 567.90,175.23 C570.57,175.22 573.23,175.21 575.90,175.21 C578.57,175.20 581.23,175.19 583.90,175.18 C586.57,175.18 589.23,175.17 591.90,175.17 C594.57,175.16 597.23,175.15 599.90,175.15 C602.57,175.14 605.23,175.14 607.90,175.13 C610.57,175.13 613.23,175.12 615.90,175.12 C618.57,175.12 621.23,175.11 623.90,175.11 C626.57,175.10 629.23,175.10 631.90,175.10 C634.57,175.09 637.23,175.09 639.90,175.09 C642.57,175.08 645.23,175.08 647.90,175.08 C650.57,175.07 653.23,175.07 655.90,175.07 C658.57,175.06 661.23,175.06 663.90,175.06 C666.20,175.05 668.50,175.05 670.80,175.05" fill="none" stroke="#008080" stroke-width="1.35" stroke-linejoin="round" stroke-linecap="round"/>
<path d="M367.40,237.50 C367.60,230.00 367.59,222.49 368.00,215.00 C368.31,209.33 368.76,203.66 369.30,198.00 C369.65,194.33 370.03,190.66 370.50,187.00 C370.78,184.83 370.98,182.65 371.40,180.50 C371.58,179.60 371.39,177.11 372.00,177.80 C372.20,178.02 372.28,178.33 372.40,178.60 C372.98,179.96 372.68,181.53 372.80,183.00 C372.95,184.83 373.05,186.67 373.20,188.50 C373.40,190.86 373.47,193.25 373.90,195.58 C374.26,197.53 374.77,199.46 375.40,201.33 C375.84,202.64 376.21,203.98 376.90,205.18 C377.33,205.93 377.76,206.71 378.40,207.29 C378.84,207.70 379.34,208.08 379.90,208.31 C380.37,208.51 380.89,208.58 381.40,208.64 C381.90,208.69 382.40,208.68 382.90,208.65 C383.40,208.61 383.91,208.54 384.40,208.43 C384.91,208.32 385.41,208.17 385.90,208.00 C386.41,207.82 386.91,207.60 387.40,207.37 C387.91,207.13 388.41,206.86 388.90,206.58 C389.41,206.29 389.91,205.97 390.40,205.65 C390.91,205.31 391.41,204.95 391.90,204.59 C392.41,204.22 392.91,203.84 393.40,203.45 C393.91,203.05 394.40,202.64 394.90,202.23 C395.40,201.82 395.90,201.40 396.40,200.97 C396.90,200.55 397.40,200.12 397.90,199.69 C398.40,199.26 398.90,198.83 399.40,198.40 C399.90,197.97 400.40,197.54 400.90,197.12 C401.40,196.70 401.90,196.28 402.40,195.86 C402.90,195.45 403.40,195.04 403.90,194.64 C404.40,194.25 404.90,193.85 405.40,193.47 C405.90,193.09 406.40,192.71 406.90,192.34 C407.40,191.98 407.90,191.63 408.40,191.28 C408.90,190.94 409.40,190.60 409.90,190.27 C410.40,189.95 410.90,189.64 411.40,189.33 C411.90,189.03 412.40,188.74 412.90,188.46 C413.40,188.18 413.90,187.90 414.40,187.64 C414.90,187.38 415.40,187.13 415.90,186.88 C416.40,186.64 416.90,186.40 417.40,186.17 C417.90,185.95 418.40,185.73 418.90,185.51 C419.40,185.30 419.90,185.10 420.40,184.90 C420.90,184.70 421.40,184.51 421.90,184.32 C422.40,184.14 422.90,183.96 423.40,183.79 C423.90,183.61 424.40,183.45 424.90,183.28 C425.40,183.12 425.90,182.97 426.40,182.82 C426.90,182.66 427.40,182.52 427.90,182.38 C428.40,182.24 428.90,182.10 429.40,181.97 C429.90,181.83 430.40,181.71 430.90,181.58 C431.40,181.46 431.90,181.34 432.40,181.22 C432.90,181.11 433.40,181.00 433.90,180.89 C434.90,180.67 435.90,180.47 436.90,180.27 C437.90,180.08 438.90,179.90 439.90,179.73 C440.90,179.57 441.90,179.41 442.90,179.26 C443.90,179.11 444.90,178.97 445.90,178.84 C446.90,178.71 447.90,178.58 448.90,178.46 C449.90,178.35 450.90,178.24 451.90,178.13 C452.90,178.03 453.90,177.93 454.90,177.84 C455.90,177.75 456.90,177.66 457.90,177.58 C458.90,177.50 459.90,177.42 460.90,177.34 C461.90,177.27 462.90,177.20 463.90,177.14 C464.90,177.07 465.90,177.01 466.90,176.95 C467.90,176.89 468.90,176.83 469.90,176.78 C470.90,176.73 471.90,176.68 472.90,176.63 C473.90,176.58 474.90,176.54 475.90,176.49 C476.90,176.45 477.90,176.41 478.90,176.37 C479.90,176.33 480.90,176.30 481.90,176.26 C482.90,176.23 483.90,176.19 484.90,176.16 C485.90,176.13 486.90,176.10 487.90,176.07 C488.90,176.04 489.90,176.01 490.90,175.99 C491.90,175.96 492.90,175.94 493.90,175.91 C494.90,175.89 495.90,175.87 496.90,175.85 C497.90,175.82 498.90,175.80 499.90,175.78 C500.90,175.77 501.90,175.75 502.90,175.73 C503.90,175.71 504.90,175.69 505.90,175.68 C506.90,175.66 507.90,175.65 508.90,175.63 C509.90,175.62 510.90,175.60 511.90,175.59 C512.90,175.57 513.90,175.56 514.90,175.55 C515.90,175.53 516.90,175.52 517.90,175.51 C518.90,175.50 519.90,175.49 520.90,175.48 C521.90,175.47 522.90,175.46 523.90,175.45 C524.90,175.44 525.90,175.43 526.90,175.42 C527.90,175.41 528.90,175.40 529.90,175.39 C530.90,175.38 531.90,175.38 532.90,175.37 C533.23,175.37 533.57,175.36 533.90,175.36 C536.57,175.34 539.23,175.32 541.90,175.31 C544.57,175.29 547.23,175.28 549.90,175.26 C552.57,175.25 555.23,175.24 557.90,175.23 C560.57,175.22 563.23,175.21 565.90,175.20 C568.57,175.19 571.23,175.18 573.90,175.17 C576.57,175.16 579.23,175.16 581.90,175.15 C584.57,175.14 587.23,175.14 589.90,175.13 C592.57,175.13 595.23,175.12 597.90,175.12 C600.57,175.11 603.23,175.11 605.90,175.11 C608.57,175.10 611.23,175.10 613.90,175.10 C616.57,175.09 619.23,175.09 621.90,175.09 C624.57,175.08 627.23,175.08 629.90,175.08 C632.57,175.08 635.23,175.08 637.90,175.07 C640.57,175.07 643.23,175.07 645.90,175.07 C648.57,175.07 651.23,175.07 653.90,175.06 C656.57,175.06 659.23,175.06 661.90,175.06 C664.57,175.06 667.23,175.06 669.90,175.06 C670.20,175.06 670.50,175.06 670.80,175.06" fill="none" stroke="#008080" stroke-width="1.35" stroke-linejoin="round" stroke-linecap="round"/>
<text class="m" transform="translate(158.46,41.50) scale(1.189,1)" font-size="8.09" style="font-style:italic;">m</text>
<text class="m" transform="translate(165.64,43.90) scale(0.925,1)" font-size="7.79" style="font-style:italic;">I</text>
<text class="s" x="179.40" y="42.00" font-size="9.00" text-anchor="start" style="" textLength="14.40" lengthAdjust="spacingAndGlyphs">-3/2</text>
<text class="s" x="206.30" y="42.00" font-size="9.00" text-anchor="start" style="" textLength="15.40" lengthAdjust="spacingAndGlyphs">-1/2</text>
<text class="s" x="235.20" y="42.00" font-size="9.00" text-anchor="start" style="" textLength="11.30" lengthAdjust="spacingAndGlyphs">1/2</text>
<text class="s" x="267.80" y="42.00" font-size="9.00" text-anchor="start" style="" textLength="12.20" lengthAdjust="spacingAndGlyphs">3/2</text>
<text class="s" x="156.80" y="55.60" font-size="9.30" text-anchor="start" style="" textLength="17.40" lengthAdjust="spacingAndGlyphs">+3/2</text>
<text class="s" x="154.20" y="66.20" font-size="9.30" text-anchor="start" style="" textLength="17.20" lengthAdjust="spacingAndGlyphs">+1/2</text>
<text class="s" x="156.20" y="77.10" font-size="9.30" text-anchor="start" style="" textLength="14.20" lengthAdjust="spacingAndGlyphs">-1/2</text>
<text class="s" x="155.00" y="87.80" font-size="9.30" text-anchor="start" style="" textLength="14.40" lengthAdjust="spacingAndGlyphs">-3/2</text>
<text class="s" x="152.50" y="153.60" font-size="9.30" text-anchor="start" style="" textLength="16.40" lengthAdjust="spacingAndGlyphs">+1/2</text>
<text class="s" x="153.80" y="164.50" font-size="9.30" text-anchor="start" style="" textLength="14.60" lengthAdjust="spacingAndGlyphs">-1/2</text>
<text class="m" transform="translate(153.01,116.60) scale(0.858,1)" font-size="9.57" style="font-style:italic;">m</text>
<text class="m" transform="translate(159.66,118.62) scale(1.248,1)" font-size="7.67" style="font-style:italic;">J</text>
<line x1="174.90" y1="53.10" x2="190.80" y2="53.10" stroke="#141414" stroke-width="1.25"/>
<line x1="174.90" y1="64.90" x2="188.80" y2="64.90" stroke="#141414" stroke-width="1.25"/>
<line x1="176.40" y1="75.00" x2="188.80" y2="75.00" stroke="#141414" stroke-width="1.25"/>
<line x1="174.40" y1="87.40" x2="190.80" y2="87.40" stroke="#141414" stroke-width="1.25"/>
<line x1="173.40" y1="150.30" x2="189.80" y2="150.30" stroke="#141414" stroke-width="1.25"/>
<line x1="171.90" y1="161.90" x2="188.30" y2="161.90" stroke="#141414" stroke-width="1.25"/>
<line x1="206.30" y1="52.70" x2="220.70" y2="52.70" stroke="#141414" stroke-width="1.25"/>
<line x1="205.00" y1="63.70" x2="221.20" y2="63.70" stroke="#141414" stroke-width="1.25"/>
<line x1="203.80" y1="77.50" x2="218.70" y2="77.50" stroke="#141414" stroke-width="1.25"/>
<line x1="204.30" y1="89.60" x2="222.00" y2="89.60" stroke="#141414" stroke-width="1.25"/>
<line x1="204.30" y1="147.50" x2="222.50" y2="147.50" stroke="#141414" stroke-width="1.25"/>
<line x1="204.30" y1="165.40" x2="222.50" y2="165.40" stroke="#141414" stroke-width="1.25"/>
<line x1="233.40" y1="50.30" x2="253.10" y2="50.30" stroke="#141414" stroke-width="1.25"/>
<line x1="232.90" y1="62.90" x2="251.40" y2="62.90" stroke="#141414" stroke-width="1.25"/>
<line x1="235.90" y1="78.20" x2="252.70" y2="78.20" stroke="#141414" stroke-width="1.25"/>
<line x1="235.70" y1="90.40" x2="250.90" y2="90.40" stroke="#141414" stroke-width="1.25"/>
<line x1="235.40" y1="144.80" x2="252.40" y2="144.80" stroke="#141414" stroke-width="1.25"/>
<line x1="234.40" y1="169.00" x2="250.40" y2="169.00" stroke="#141414" stroke-width="1.25"/>
<line x1="264.60" y1="48.50" x2="283.90" y2="48.50" stroke="#141414" stroke-width="1.25"/>
<line x1="265.80" y1="62.10" x2="282.90" y2="62.10" stroke="#141414" stroke-width="1.25"/>
<line x1="266.10" y1="78.50" x2="283.90" y2="78.50" stroke="#141414" stroke-width="1.25"/>
<line x1="266.10" y1="92.60" x2="283.90" y2="92.60" stroke="#141414" stroke-width="1.25"/>
<line x1="266.30" y1="142.10" x2="282.20" y2="142.10" stroke="#141414" stroke-width="1.25"/>
<line x1="266.80" y1="170.50" x2="281.70" y2="170.50" stroke="#141414" stroke-width="1.25"/>
<line x1="176.20" y1="88.90" x2="176.20" y2="161.90" stroke="#555" stroke-width="1.00"/><path d="M176.20,87.40 L174.70,90.40 L177.70,90.40 Z" fill="#111"/>
<line x1="188.20" y1="76.50" x2="188.20" y2="150.30" stroke="#555" stroke-width="1.00"/><path d="M188.20,75.00 L186.70,78.00 L189.70,78.00 Z" fill="#111"/>
<line x1="206.80" y1="91.10" x2="206.80" y2="165.40" stroke="#555" stroke-width="1.00"/><path d="M206.80,89.60 L205.30,92.60 L208.30,92.60 Z" fill="#111"/>
<line x1="217.60" y1="79.00" x2="217.60" y2="147.50" stroke="#555" stroke-width="1.00"/><path d="M217.60,77.50 L216.10,80.50 L219.10,80.50 Z" fill="#111"/>
<line x1="236.40" y1="91.90" x2="236.40" y2="169.00" stroke="#555" stroke-width="1.00"/><path d="M236.40,90.40 L234.90,93.40 L237.90,93.40 Z" fill="#111"/>
<line x1="249.90" y1="79.70" x2="249.90" y2="144.80" stroke="#555" stroke-width="1.00"/><path d="M249.90,78.20 L248.40,81.20 L251.40,81.20 Z" fill="#111"/>
<line x1="267.80" y1="94.10" x2="267.80" y2="170.50" stroke="#555" stroke-width="1.00"/><path d="M267.80,92.60 L266.30,95.60 L269.30,95.60 Z" fill="#111"/>
<line x1="279.80" y1="80.00" x2="279.80" y2="142.10" stroke="#555" stroke-width="1.00"/><path d="M279.80,78.50 L278.30,81.50 L281.30,81.50 Z" fill="#111"/>
<rect x="169.20" y="119.50" width="13.50" height="21.90" rx="0.4" fill="#fff" stroke="#c6c6c6" stroke-width="0.9"/>
<rect x="198.60" y="121.00" width="13.90" height="21.10" rx="0.4" fill="#fff" stroke="#c6c6c6" stroke-width="0.9"/>
<rect x="230.00" y="118.50" width="13.40" height="21.60" rx="0.4" fill="#fff" stroke="#c6c6c6" stroke-width="0.9"/>
<rect x="261.30" y="119.50" width="13.50" height="20.90" rx="0.4" fill="#fff" stroke="#c6c6c6" stroke-width="0.9"/>
<rect x="210.00" y="94.30" width="15.40" height="22.30" rx="0.4" fill="#fff" stroke="#c6c6c6" stroke-width="0.9"/>
<rect x="242.20" y="94.20" width="15.10" height="22.20" rx="0.4" fill="#fff" stroke="#c6c6c6" stroke-width="0.9"/>
<rect x="272.30" y="94.50" width="15.40" height="22.40" rx="0.4" fill="#fff" stroke="#c6c6c6" stroke-width="0.9"/>
<text transform="translate(170.42,135.60) scale(0.925,1)" font-size="15.00" style="">4'</text>
<text transform="translate(199.81,136.75) scale(0.853,1)" font-size="15.37" style="">3'</text>
<text transform="translate(230.79,134.90) scale(0.853,1)" font-size="15.76" style="">2'</text>
<text transform="translate(263.23,135.90) scale(0.764,1)" font-size="16.52" style="">1'</text>
<text transform="translate(212.07,110.65) scale(1.050,1)" font-size="15.07" style="">6'</text>
<text transform="translate(243.88,110.90) scale(1.036,1)" font-size="15.11" style="">7'</text>
<text x="274.39" y="111.25" font-size="15.41" style="">8'</text>
<circle cx="187.40" cy="101.00" r="7.70" fill="#fff" stroke="#111" stroke-width="1.10"/>
<text class="b" transform="translate(183.00,106.15) scale(1.092,1)" font-size="15.34" style="">5</text>
<text class="n2" transform="translate(196.48,110.27) scale(0.798,1)" font-size="22.55" style="">'</text>
<text class="m" transform="translate(448.50,47.00) scale(1.198,1)" font-size="9.57" style="font-style:italic;">m</text>
<text class="m" transform="translate(456.94,49.70) scale(0.919,1)" font-size="8.70" style="font-style:italic;">I</text>
<text class="s" x="473.90" y="47.10" font-size="10.00" text-anchor="start" style="" textLength="17.90" lengthAdjust="spacingAndGlyphs">-3/2</text>
<text class="s" x="509.50" y="46.80" font-size="10.00" text-anchor="start" style="" textLength="18.20" lengthAdjust="spacingAndGlyphs">-1/2</text>
<text class="s" x="550.30" y="46.80" font-size="10.00" text-anchor="start" style="" textLength="13.50" lengthAdjust="spacingAndGlyphs">1/2</text>
<text class="s" x="587.70" y="46.40" font-size="10.00" text-anchor="start" style="" textLength="14.40" lengthAdjust="spacingAndGlyphs">3/2</text>
<text class="s" x="452.00" y="61.10" font-size="9.60" text-anchor="start" style="" textLength="20.90" lengthAdjust="spacingAndGlyphs">+3/2</text>
<text class="s" x="451.80" y="70.50" font-size="9.60" text-anchor="start" style="" textLength="21.10" lengthAdjust="spacingAndGlyphs">+1/2</text>
<text class="s" x="453.90" y="84.60" font-size="9.60" text-anchor="start" style="" textLength="18.50" lengthAdjust="spacingAndGlyphs">-1/2</text>
<text class="s" x="454.40" y="96.50" font-size="9.60" text-anchor="start" style="" textLength="18.00" lengthAdjust="spacingAndGlyphs">-3/2</text>
<text class="s" x="449.00" y="152.00" font-size="9.60" text-anchor="start" style="" textLength="20.40" lengthAdjust="spacingAndGlyphs">+1/2</text>
<text class="s" x="449.50" y="164.50" font-size="9.60" text-anchor="start" style="" textLength="17.40" lengthAdjust="spacingAndGlyphs">-1/2</text>
<text class="m" transform="translate(449.38,117.60) scale(1.173,1)" font-size="12.55" style="font-style:italic;">m</text>
<text class="m" transform="translate(459.53,120.51) scale(1.250,1)" font-size="9.02" style="font-style:italic;">J</text>
<line x1="475.40" y1="58.20" x2="495.50" y2="58.20" stroke="#141414" stroke-width="1.25"/>
<line x1="476.40" y1="67.90" x2="493.80" y2="67.90" stroke="#141414" stroke-width="1.25"/>
<line x1="476.40" y1="82.80" x2="492.30" y2="82.80" stroke="#141414" stroke-width="1.25"/>
<line x1="475.40" y1="94.40" x2="494.80" y2="94.40" stroke="#141414" stroke-width="1.25"/>
<line x1="473.90" y1="149.70" x2="493.80" y2="149.70" stroke="#141414" stroke-width="1.25"/>
<line x1="471.90" y1="162.40" x2="491.80" y2="162.40" stroke="#141414" stroke-width="1.25"/>
<line x1="513.80" y1="54.20" x2="531.70" y2="54.20" stroke="#141414" stroke-width="1.25"/>
<line x1="513.00" y1="66.10" x2="532.70" y2="66.10" stroke="#141414" stroke-width="1.25"/>
<line x1="511.00" y1="83.50" x2="530.90" y2="83.50" stroke="#141414" stroke-width="1.25"/>
<line x1="512.00" y1="96.40" x2="532.70" y2="96.40" stroke="#141414" stroke-width="1.25"/>
<line x1="512.00" y1="146.70" x2="534.70" y2="146.70" stroke="#141414" stroke-width="1.25"/>
<line x1="512.00" y1="163.90" x2="534.10" y2="163.90" stroke="#141414" stroke-width="1.25"/>
<line x1="548.30" y1="51.60" x2="571.70" y2="51.60" stroke="#141414" stroke-width="1.25"/>
<line x1="547.80" y1="63.80" x2="570.20" y2="63.80" stroke="#141414" stroke-width="1.25"/>
<line x1="551.00" y1="84.20" x2="570.90" y2="84.20" stroke="#141414" stroke-width="1.25"/>
<line x1="551.00" y1="97.40" x2="569.50" y2="97.40" stroke="#141414" stroke-width="1.25"/>
<line x1="551.00" y1="143.90" x2="570.70" y2="143.90" stroke="#141414" stroke-width="1.25"/>
<line x1="548.80" y1="165.40" x2="570.70" y2="165.40" stroke="#141414" stroke-width="1.25"/>
<line x1="586.40" y1="48.60" x2="610.30" y2="48.60" stroke="#141414" stroke-width="1.25"/>
<line x1="587.70" y1="61.50" x2="608.30" y2="61.50" stroke="#141414" stroke-width="1.25"/>
<line x1="587.90" y1="84.50" x2="609.80" y2="84.50" stroke="#141414" stroke-width="1.25"/>
<line x1="588.40" y1="99.90" x2="609.80" y2="99.90" stroke="#141414" stroke-width="1.25"/>
<line x1="587.90" y1="141.40" x2="607.80" y2="141.40" stroke="#141414" stroke-width="1.25"/>
<line x1="588.70" y1="168.20" x2="607.60" y2="168.20" stroke="#141414" stroke-width="1.25"/>
<line x1="491.80" y1="59.70" x2="491.80" y2="149.70" stroke="#777" stroke-width="1.25"/><path d="M491.80,58.20 L490.30,61.20 L493.30,61.20 Z" fill="#111"/>
<line x1="479.80" y1="69.40" x2="479.80" y2="162.40" stroke="#777" stroke-width="1.25"/><path d="M479.80,67.90 L478.30,70.90 L481.30,70.90 Z" fill="#111"/>
<line x1="531.10" y1="55.70" x2="531.10" y2="146.70" stroke="#777" stroke-width="1.25"/><path d="M531.10,54.20 L529.60,57.20 L532.60,57.20 Z" fill="#111"/>
<line x1="514.70" y1="67.60" x2="514.70" y2="163.90" stroke="#777" stroke-width="1.25"/><path d="M514.70,66.10 L513.20,69.10 L516.20,69.10 Z" fill="#111"/>
<line x1="568.00" y1="53.10" x2="568.00" y2="143.90" stroke="#777" stroke-width="1.25"/><path d="M568.00,51.60 L566.50,54.60 L569.50,54.60 Z" fill="#111"/>
<line x1="551.60" y1="65.30" x2="551.60" y2="165.40" stroke="#777" stroke-width="1.25"/><path d="M551.60,63.80 L550.10,66.80 L553.10,66.80 Z" fill="#111"/>
<line x1="604.70" y1="50.10" x2="604.70" y2="141.40" stroke="#777" stroke-width="1.25"/><path d="M604.70,48.60 L603.20,51.60 L606.20,51.60 Z" fill="#111"/>
<line x1="591.70" y1="63.00" x2="591.70" y2="168.20" stroke="#777" stroke-width="1.25"/><path d="M591.70,61.50 L590.20,64.50 L593.20,64.50 Z" fill="#111"/>
<rect x="486.00" y="99.40" width="11.60" height="19.70" rx="0.4" fill="#fff" stroke="#b8b8b8" stroke-width="0.9"/>
<rect x="474.20" y="125.40" width="10.30" height="19.00" rx="0.4" fill="#fff" stroke="#b8b8b8" stroke-width="0.9"/>
<rect x="524.90" y="98.70" width="11.80" height="20.20" rx="0.4" fill="#fff" stroke="#b8b8b8" stroke-width="0.9"/>
<rect x="509.20" y="125.10" width="10.80" height="19.60" rx="0.4" fill="#fff" stroke="#b8b8b8" stroke-width="0.9"/>
<rect x="562.60" y="100.60" width="11.10" height="20.30" rx="0.4" fill="#fff" stroke="#b8b8b8" stroke-width="0.9"/>
<rect x="546.30" y="122.40" width="10.30" height="19.50" rx="0.4" fill="#fff" stroke="#b8b8b8" stroke-width="0.9"/>
<rect x="586.20" y="119.60" width="10.50" height="19.50" rx="0.4" fill="#fff" stroke="#b8b8b8" stroke-width="0.9"/>
<text transform="translate(487.52,113.95) scale(1.114,1)" font-size="14.59" style="">5</text>
<text transform="translate(475.28,139.70) scale(1.086,1)" font-size="14.85" style="">4</text>
<text transform="translate(526.42,113.27) scale(1.278,1)" font-size="13.28" style="">6</text>
<text transform="translate(510.46,139.56) scale(1.132,1)" font-size="14.48" style="">3</text>
<text transform="translate(563.19,115.70) scale(1.213,1)" font-size="14.05" style="">7</text>
<text transform="translate(547.24,137.00) scale(1.181,1)" font-size="14.39" style="">2</text>
<text transform="translate(588.44,134.00) scale(0.826,1)" font-size="13.64" style="">1</text>
<circle cx="69.50" cy="22.05" r="8.85" fill="#fff" stroke="#111" stroke-width="1.50"/>
<text class="b" transform="translate(64.25,28.50) scale(1.045,1)" font-size="19.85" style="">5</text>
<text class="n2" transform="translate(77.44,30.94) scale(0.948,1)" font-size="25.11" style="font-style:italic;">'</text>
<circle cx="314.20" cy="56.50" r="8.65" fill="#fff" stroke="#111" stroke-width="1.20"/>
<text class="b" transform="translate(308.65,62.71) scale(1.169,1)" font-size="19.25" style="">5</text>
<text class="lg" transform="translate(323.24,63.94) scale(1.128,1)" font-size="21.28" style="">'</text>
<text class="lg" transform="translate(329.57,62.01) scale(1.123,1)" font-size="18.67" style="">-8'</text>
<line x1="332.50" y1="32.00" x2="332.50" y2="45.80" stroke="#111" stroke-width="1.30"/><path d="M332.50,28.00 L330.50,34.50 L334.50,34.50 Z" fill="#111"/>
<text class="lg" transform="translate(315.05,216.70) scale(1.090,1)" font-size="18.94" style="">1'-4'</text>
<line x1="332.10" y1="184.30" x2="332.10" y2="200.80" stroke="#111" stroke-width="1.30"/><path d="M332.10,180.30 L330.10,186.80 L334.10,186.80 Z" fill="#111"/>
<text class="lg" transform="translate(195.99,231.25) scale(1.040,1)" font-size="25.82" style="">(a)</text>
<text class="n" transform="translate(58.18,238.93) scale(1.271,1)" font-size="26.86" style="font-style:italic;">σ</text>
<line x1="79.80" y1="221.90" x2="94.70" y2="221.90" stroke="#111" stroke-width="1.25"/>
<circle cx="388.20" cy="21.20" r="8.65" fill="#fff" stroke="#111" stroke-width="1.30"/>
<text class="lg" transform="translate(382.56,28.28) scale(1.090,1)" font-size="21.63" style="">8</text>
<text class="lg" transform="translate(615.63,59.68) scale(0.981,1)" font-size="21.50" style="">5-</text>
<circle cx="644.10" cy="52.70" r="8.40" fill="#fff" stroke="#111" stroke-width="1.20"/>
<text class="lg" transform="translate(638.66,59.50) scale(1.032,1)" font-size="20.30" style="">8</text>
<line x1="630.50" y1="31.30" x2="630.50" y2="45.50" stroke="#111" stroke-width="1.30"/><path d="M630.50,27.30 L628.50,33.80 L632.50,33.80 Z" fill="#111"/>
<text class="lg" transform="translate(625.16,213.30) scale(0.946,1)" font-size="20.45" style="">1-4</text>
<line x1="637.80" y1="184.90" x2="637.80" y2="199.40" stroke="#111" stroke-width="1.30"/><path d="M637.80,180.90 L635.80,187.40 L639.80,187.40 Z" fill="#111"/>
<text class="lg" transform="translate(506.65,231.96) scale(1.037,1)" font-size="26.70" style="">(b)</text>
<text class="n" transform="translate(379.68,240.71) scale(1.172,1)" font-size="28.95" style="font-style:italic;">σ</text>
<line x1="400.50" y1="223.90" x2="416.40" y2="223.90" stroke="#111" stroke-width="1.30"/>
<line x1="408.40" y1="216.20" x2="408.40" y2="231.80" stroke="#111" stroke-width="1.30"/>
</svg>
</body></html>
